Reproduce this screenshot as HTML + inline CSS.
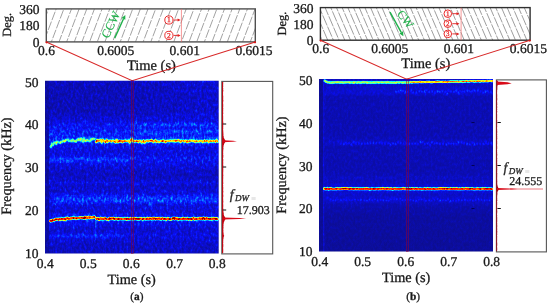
<!DOCTYPE html>
<html><head><meta charset="utf-8"><style>
html,body{margin:0;padding:0;background:#fff;width:550px;height:305px;overflow:hidden}
svg{display:block}
text{font-family:"Liberation Serif","Times New Roman",serif;fill:#1a1a1a;stroke:#1a1a1a;stroke-width:0.3px;text-rendering:geometricPrecision}
</style></head><body>
<svg width="550" height="305" viewBox="0 0 550 305">
<rect width="550" height="305" fill="#fff"/>

<clipPath id="aclip"><rect x="46.3" y="8.9" width="209.0" height="33.0"/></clipPath>
<g clip-path="url(#aclip)" stroke="#8a8a8a" stroke-width="0.8" fill="none" stroke-dasharray="9 1.5">
<path d="M5.45 41.9L17.95 8.9" stroke-dashoffset="5.71"/>
<path d="M13.1 41.9L25.6 8.9" stroke-dashoffset="4.29"/>
<path d="M20.75 41.9L33.25 8.9" stroke-dashoffset="5.78"/>
<path d="M28.4 41.9L40.9 8.9" stroke-dashoffset="2.06"/>
<path d="M36.05 41.9L48.55 8.9" stroke-dashoffset="8.13"/>
<path d="M43.7 41.9L56.2 8.9" stroke-dashoffset="8.24"/>
<path d="M51.35 41.9L63.85 8.9" stroke-dashoffset="6.53"/>
<path d="M59 41.9L71.5 8.9" stroke-dashoffset="1.6"/>
<path d="M66.65 41.9L79.15 8.9" stroke-dashoffset="5.21"/>
<path d="M74.3 41.9L86.8 8.9" stroke-dashoffset="3.28"/>
<path d="M81.95 41.9L94.45 8.9" stroke-dashoffset="2.5"/>
<path d="M89.6 41.9L102.1 8.9" stroke-dashoffset="9.53"/>
<path d="M97.25 41.9L109.75 8.9" stroke-dashoffset="9.97"/>
<path d="M104.9 41.9L117.4 8.9" stroke-dashoffset="0.45"/>
<path d="M112.55 41.9L125.05 8.9" stroke-dashoffset="8.6"/>
<path d="M120.2 41.9L132.7 8.9" stroke-dashoffset="6.03"/>
<path d="M127.85 41.9L140.35 8.9" stroke-dashoffset="3.82"/>
<path d="M135.5 41.9L148 8.9" stroke-dashoffset="2.84"/>
<path d="M143.15 41.9L155.65 8.9" stroke-dashoffset="6.75"/>
<path d="M150.8 41.9L163.3 8.9" stroke-dashoffset="4.57"/>
<path d="M158.45 41.9L170.95 8.9" stroke-dashoffset="6.86"/>
<path d="M166.1 41.9L178.6 8.9" stroke-dashoffset="6.62"/>
<path d="M173.75 41.9L186.25 8.9" stroke-dashoffset="1.33"/>
<path d="M181.4 41.9L193.9 8.9" stroke-dashoffset="7.68"/>
<path d="M189.05 41.9L201.55 8.9" stroke-dashoffset="9.82"/>
<path d="M196.7 41.9L209.2 8.9" stroke-dashoffset="9.69"/>
<path d="M204.35 41.9L216.85 8.9" stroke-dashoffset="6.13"/>
<path d="M212 41.9L224.5 8.9" stroke-dashoffset="0.44"/>
<path d="M219.65 41.9L232.15 8.9" stroke-dashoffset="0.04"/>
<path d="M227.3 41.9L239.8 8.9" stroke-dashoffset="1.34"/>
<path d="M234.95 41.9L247.45 8.9" stroke-dashoffset="9.41"/>
<path d="M242.6 41.9L255.1 8.9" stroke-dashoffset="3.03"/>
<path d="M250.25 41.9L262.75 8.9" stroke-dashoffset="3.66"/>
<path d="M257.9 41.9L270.4 8.9" stroke-dashoffset="8.98"/>
<path d="M265.55 41.9L278.05 8.9" stroke-dashoffset="3.14"/>
</g>
<rect x="46.3" y="8.9" width="209.0" height="33.0" fill="none" stroke="#505050" stroke-width="1.4"/>
<text x="39.6" y="13.9" font-size="13.5" text-anchor="end" >360</text>
<text x="39.6" y="30.4" font-size="13.5" text-anchor="end" >180</text>
<text x="39.6" y="46.9" font-size="13.5" text-anchor="end" >0</text>
<text transform="translate(11.2,24.8) rotate(-90)" font-size="12.5" text-anchor="middle">Deg.</text>
<text x="46.5" y="54.7" font-size="13.5" text-anchor="middle" >0.6</text>
<text x="115.8" y="54.7" font-size="13.5" text-anchor="middle" >0.6005</text>
<text x="184.8" y="54.7" font-size="13.5" text-anchor="middle" >0.601</text>
<text x="254" y="54.7" font-size="13.5" text-anchor="middle" >0.6015</text>
<text x="151.4" y="69.7" font-size="14.5" text-anchor="middle" >Time (s)</text>
<line x1="181.4" y1="8.9" x2="181.4" y2="41.9" stroke="#f06a6a" stroke-width="0.7"/>
<circle cx="168.9" cy="20" r="4.1" fill="#fff" stroke="#e82020" stroke-width="0.95"/>
<text x="168.9" y="22.4" font-size="7.5" text-anchor="middle" style="fill:#e82020;stroke:#e82020;stroke-width:0.25px">1</text>
<line x1="173.5" y1="20" x2="178.1" y2="20" stroke="#e02020" stroke-width="0.9"/>
<path d="M180.6 20L177.6 18.5L177.6 21.5Z" fill="#e02020"/>
<circle cx="168.9" cy="35.4" r="4.1" fill="#fff" stroke="#e82020" stroke-width="0.95"/>
<text x="168.9" y="37.8" font-size="7.5" text-anchor="middle" style="fill:#e82020;stroke:#e82020;stroke-width:0.25px">2</text>
<line x1="173.5" y1="35.4" x2="178.1" y2="35.4" stroke="#e02020" stroke-width="0.9"/>
<path d="M180.6 35.4L177.6 33.9L177.6 36.9Z" fill="#e02020"/>
<line x1="114.7" y1="38.1" x2="123.43" y2="18.99" stroke="#1fb04a" stroke-width="1.4"/>
<path d="M125.3 14.9L125.34 19.87L121.52 18.12Z" fill="#1fb04a"/>
<text transform="translate(114.4,26.3) rotate(-64)" font-size="12.3" text-anchor="middle" style="fill:#1fb04a;stroke:#1fb04a;stroke-width:0.15px">CCW</text>
<path d="M46.3 41.9L132.2 80.8L255.3 41.9" fill="none" stroke="#d82828" stroke-width="1.05"/>
<circle cx="46.6" cy="42.3" r="1.1" fill="#d81818"/>
<circle cx="255" cy="42.3" r="1.1" fill="#d81818"/>
<clipPath id="bclip"><rect x="320.4" y="7.6" width="209.70000000000005" height="32.6"/></clipPath>
<g clip-path="url(#bclip)" stroke="#858585" stroke-width="0.8" fill="none" stroke-dasharray="11 1.2">
<path d="M290.96 7.6L304.96 40.2" stroke-dashoffset="4.75"/>
<path d="M296.65 7.6L310.65 40.2" stroke-dashoffset="6.57"/>
<path d="M302.34 7.6L316.34 40.2" stroke-dashoffset="6.66"/>
<path d="M308.03 7.6L322.03 40.2" stroke-dashoffset="1.43"/>
<path d="M313.72 7.6L327.72 40.2" stroke-dashoffset="0.11"/>
<path d="M319.41 7.6L333.41 40.2" stroke-dashoffset="3.75"/>
<path d="M325.1 7.6L339.1 40.2" stroke-dashoffset="2.74"/>
<path d="M330.79 7.6L344.79 40.2" stroke-dashoffset="8.1"/>
<path d="M336.48 7.6L350.48 40.2" stroke-dashoffset="6.91"/>
<path d="M342.17 7.6L356.17 40.2" stroke-dashoffset="6.01"/>
<path d="M347.86 7.6L361.86 40.2" stroke-dashoffset="5.58"/>
<path d="M353.55 7.6L367.55 40.2" stroke-dashoffset="6.61"/>
<path d="M359.24 7.6L373.24 40.2" stroke-dashoffset="1.45"/>
<path d="M364.93 7.6L378.93 40.2" stroke-dashoffset="4.4"/>
<path d="M370.62 7.6L384.62 40.2" stroke-dashoffset="1.62"/>
<path d="M376.31 7.6L390.31 40.2" stroke-dashoffset="9.06"/>
<path d="M382 7.6L396 40.2" stroke-dashoffset="0.59"/>
<path d="M387.69 7.6L401.69 40.2" stroke-dashoffset="8.19"/>
<path d="M393.38 7.6L407.38 40.2" stroke-dashoffset="0.75"/>
<path d="M399.07 7.6L413.07 40.2" stroke-dashoffset="6.87"/>
<path d="M404.76 7.6L418.76 40.2" stroke-dashoffset="3.37"/>
<path d="M410.45 7.6L424.45 40.2" stroke-dashoffset="4.05"/>
<path d="M416.14 7.6L430.14 40.2" stroke-dashoffset="8.42"/>
<path d="M421.83 7.6L435.83 40.2" stroke-dashoffset="0.19"/>
<path d="M427.52 7.6L441.52 40.2" stroke-dashoffset="0.61"/>
<path d="M433.21 7.6L447.21 40.2" stroke-dashoffset="9.15"/>
<path d="M438.9 7.6L452.9 40.2" stroke-dashoffset="5.09"/>
<path d="M444.59 7.6L458.59 40.2" stroke-dashoffset="0.91"/>
<path d="M450.28 7.6L464.28 40.2" stroke-dashoffset="9.87"/>
<path d="M455.97 7.6L469.97 40.2" stroke-dashoffset="9.47"/>
<path d="M461.66 7.6L475.66 40.2" stroke-dashoffset="1.13"/>
<path d="M467.35 7.6L481.35 40.2" stroke-dashoffset="4.23"/>
<path d="M473.04 7.6L487.04 40.2" stroke-dashoffset="1.35"/>
<path d="M478.73 7.6L492.73 40.2" stroke-dashoffset="3.13"/>
<path d="M484.42 7.6L498.42 40.2" stroke-dashoffset="6.21"/>
<path d="M490.11 7.6L504.11 40.2" stroke-dashoffset="1.64"/>
<path d="M495.8 7.6L509.8 40.2" stroke-dashoffset="6.97"/>
<path d="M501.49 7.6L515.49 40.2" stroke-dashoffset="0.51"/>
<path d="M507.18 7.6L521.18 40.2" stroke-dashoffset="1.71"/>
<path d="M512.87 7.6L526.87 40.2" stroke-dashoffset="8.16"/>
<path d="M518.56 7.6L532.56 40.2" stroke-dashoffset="4.01"/>
<path d="M524.25 7.6L538.25 40.2" stroke-dashoffset="4.19"/>
<path d="M529.94 7.6L543.94 40.2" stroke-dashoffset="5.96"/>
<path d="M535.63 7.6L549.63 40.2" stroke-dashoffset="4.77"/>
<path d="M541.32 7.6L555.32 40.2" stroke-dashoffset="3.85"/>
<path d="M547.01 7.6L561.01 40.2" stroke-dashoffset="0.3"/>
<path d="M552.7 7.6L566.7 40.2" stroke-dashoffset="7.26"/>
</g>
<rect x="320.4" y="7.6" width="209.70000000000005" height="32.6" fill="none" stroke="#303030" stroke-width="1.4"/>
<text x="313.6" y="12.6" font-size="13.5" text-anchor="end" >360</text>
<text x="313.6" y="28.9" font-size="13.5" text-anchor="end" >180</text>
<text x="313.6" y="45.2" font-size="13.5" text-anchor="end" >0</text>
<text transform="translate(285.5,23.6) rotate(-90)" font-size="12.5" text-anchor="middle">Deg.</text>
<text x="320.8" y="53" font-size="13.5" text-anchor="middle" >0.6</text>
<text x="389.8" y="53" font-size="13.5" text-anchor="middle" >0.6005</text>
<text x="458.9" y="53" font-size="13.5" text-anchor="middle" >0.601</text>
<text x="528.4" y="53" font-size="13.5" text-anchor="middle" >0.6015</text>
<text x="425.8" y="67.8" font-size="14.5" text-anchor="middle" >Time (s)</text>
<line x1="461.1" y1="7.6" x2="461.1" y2="40.2" stroke="#f06a6a" stroke-width="0.7"/>
<circle cx="447.8" cy="13.7" r="3.8" fill="#fff" stroke="#e82020" stroke-width="0.95"/>
<text x="447.8" y="16.1" font-size="7" text-anchor="middle" style="fill:#e82020;stroke:#e82020;stroke-width:0.25px">1</text>
<line x1="452.3" y1="13.7" x2="457" y2="13.7" stroke="#e02020" stroke-width="0.9"/>
<path d="M459.5 13.7L456.5 12.2L456.5 15.2Z" fill="#e02020"/>
<circle cx="447.8" cy="23.7" r="3.8" fill="#fff" stroke="#e82020" stroke-width="0.95"/>
<text x="447.8" y="26.1" font-size="7" text-anchor="middle" style="fill:#e82020;stroke:#e82020;stroke-width:0.25px">2</text>
<line x1="452.3" y1="23.7" x2="457" y2="23.7" stroke="#e02020" stroke-width="0.9"/>
<path d="M459.5 23.7L456.5 22.2L456.5 25.2Z" fill="#e02020"/>
<circle cx="447.8" cy="33.9" r="3.8" fill="#fff" stroke="#e82020" stroke-width="0.95"/>
<text x="447.8" y="36.3" font-size="7" text-anchor="middle" style="fill:#e82020;stroke:#e82020;stroke-width:0.25px">3</text>
<line x1="452.3" y1="33.9" x2="457" y2="33.9" stroke="#e02020" stroke-width="0.9"/>
<path d="M459.5 33.9L456.5 32.4L456.5 35.4Z" fill="#e02020"/>
<line x1="390" y1="12.1" x2="401.22" y2="32.36" stroke="#1fb04a" stroke-width="1.4"/>
<path d="M403.4 36.3L399.38 33.38L403.06 31.35Z" fill="#1fb04a"/>
<text transform="translate(402.4,21.6) rotate(52)" font-size="12" text-anchor="middle" style="fill:#1fb04a;stroke:#1fb04a;stroke-width:0.15px">CW</text>
<path d="M320.4 40.2L406.6 79.2L530.1 40.2" fill="none" stroke="#d82828" stroke-width="1.05"/>
<circle cx="320.7" cy="40.6" r="1.1" fill="#d81818"/>
<circle cx="529.8" cy="40.6" r="1.1" fill="#d81818"/>
<linearGradient id="ga" x1="0" y1="0" x2="0" y2="1"><stop offset="0" stop-color="rgb(24,0,0)"/><stop offset="0.01" stop-color="rgb(20,0,0)"/><stop offset="0.05" stop-color="rgb(18,0,0)"/><stop offset="0.17" stop-color="rgb(18,0,0)"/><stop offset="0.22" stop-color="rgb(22,0,0)"/><stop offset="0.26" stop-color="rgb(29,0,0)"/><stop offset="0.31" stop-color="rgb(34,0,0)"/><stop offset="0.34" stop-color="rgb(38,0,0)"/><stop offset="0.36" stop-color="rgb(33,0,0)"/><stop offset="0.39" stop-color="rgb(24,0,0)"/><stop offset="0.42" stop-color="rgb(22,0,0)"/><stop offset="0.45" stop-color="rgb(29,0,0)"/><stop offset="0.48" stop-color="rgb(24,0,0)"/><stop offset="0.52" stop-color="rgb(17,0,0)"/><stop offset="0.56" stop-color="rgb(15,0,0)"/><stop offset="0.59" stop-color="rgb(22,0,0)"/><stop offset="0.61" stop-color="rgb(17,0,0)"/><stop offset="0.65" stop-color="rgb(22,0,0)"/><stop offset="0.69" stop-color="rgb(31,0,0)"/><stop offset="0.72" stop-color="rgb(22,0,0)"/><stop offset="0.76" stop-color="rgb(22,0,0)"/><stop offset="0.79" stop-color="rgb(31,0,0)"/><stop offset="0.83" stop-color="rgb(26,0,0)"/><stop offset="0.86" stop-color="rgb(19,0,0)"/><stop offset="0.9" stop-color="rgb(23,0,0)"/><stop offset="0.93" stop-color="rgb(18,0,0)"/><stop offset="1" stop-color="rgb(15,0,0)"/></linearGradient>
<clipPath id="ca"><rect x="45" y="80.8" width="173.7" height="172.8"/></clipPath>
<filter id="fa" x="45" y="80.8" width="173.7" height="172.8" filterUnits="userSpaceOnUse" color-interpolation-filters="sRGB">
<feTurbulence type="fractalNoise" baseFrequency="0.45 0.3" numOctaves="2" seed="3" result="n"/>
<feColorMatrix in="n" type="matrix" values="1 0 0 0 0  1 0 0 0 0  1 0 0 0 0  0 0 0 0 1" result="n0"/>
<feComponentTransfer in="n0" result="n1"><feFuncR type="gamma" amplitude="1" exponent="2" offset="0"/><feFuncG type="gamma" amplitude="1" exponent="2" offset="0"/></feComponentTransfer>
<feColorMatrix in="n1" type="matrix" values="1 0 0 0 0  0 0.28 0 0 0.19  0 0 0 0 0  0 0 0 0 1" result="n2"/>
<feComposite in="SourceGraphic" in2="n2" operator="arithmetic" k1="1.7" k2="0.55" k3="0.05" k4="-0.01" result="s"/>
<feColorMatrix in="s" type="matrix" values="1 1 0 0 0  1 1 0 0 0  1 1 0 0 0  0 0 0 0 1" result="s2"/>
<feComponentTransfer in="s2">
<feFuncR type="table" tableValues="0.05 0.04 0.03 0.02 0.5 1 1 1 0.5"/>
<feFuncG type="table" tableValues="0.05 0.06 0.5 1 1 1 0.5 0.02 0"/>
<feFuncB type="table" tableValues="0.5 1 1 1 0.5 0 0 0 0"/>
</feComponentTransfer>
<feGaussianBlur stdDeviation="0.5"/>
</filter>
<linearGradient id="dkA" x1="0" y1="0" x2="1" y2="0"><stop offset="0" stop-color="#000" stop-opacity="0.3"/><stop offset="0.6" stop-color="#000" stop-opacity="0.2"/><stop offset="1" stop-color="#000" stop-opacity="0"/></linearGradient><linearGradient id="dkA2" x1="0" y1="0" x2="0" y2="1"><stop offset="0" stop-color="#000" stop-opacity="0"/><stop offset="1" stop-color="#000" stop-opacity="1"/></linearGradient><mask id="mkA"><rect x="45" y="80" width="174" height="45" fill="#fff"/><rect x="45" y="110" width="174" height="15" fill="url(#dkA2)"/></mask>
<g filter="url(#fa)" clip-path="url(#ca)">
<rect x="45" y="80.8" width="173.7" height="172.8" fill="url(#ga)"/>
<rect x="45" y="80.8" width="150" height="44" fill="url(#dkA)" fill-opacity="1" mask="url(#mkA)"/>
<polyline points="130,125.77 132,124.9 134,124.78 136,123.88 138,125.06 140,125.28 142,124.71 144,124.79 146,123.91 148,125.99 150,125.24 152,124.75 154,125.43 156,125.25 158,125.07 160,124.86 162,125.05 164,125.33 166,125.59 168,125.61 170,125.29 172,125.66 174,124.88 176,123.88 178,123.94 180,125.63 182,123.82 184,124.42 186,125 188,125.67 190,123.52 192,124.18 194,124.42 196,124.46 198,125 200,125.57 202,125.44 204,127 206,126.12 208,124.03 210,123.92 212,124.8 214,124.77 216,125.77 218,125.45" fill="none" stroke="rgb(33,0,0)" stroke-width="5" stroke-dasharray="none" style="mix-blend-mode:lighten"/>
<polyline points="130,125.77 132,124.9 134,124.78 136,123.88 138,125.06 140,125.28 142,124.71 144,124.79 146,123.91 148,125.99 150,125.24 152,124.75 154,125.43 156,125.25 158,125.07 160,124.86 162,125.05 164,125.33 166,125.59 168,125.61 170,125.29 172,125.66 174,124.88 176,123.88 178,123.94 180,125.63 182,123.82 184,124.42 186,125 188,125.67 190,123.52 192,124.18 194,124.42 196,124.46 198,125 200,125.57 202,125.44 204,127 206,126.12 208,124.03 210,123.92 212,124.8 214,124.77 216,125.77 218,125.45" fill="none" stroke="rgb(41,0,0)" stroke-width="2.5" stroke-dasharray="none" style="mix-blend-mode:lighten"/>
<polyline points="50,160.58 52,159.99 54,160.32 56,160.28 58,159.85 60,160.42 62,159 64,160.68 66,160.43 68,162.06 70,159.95 72,158.89 74,159.53 76,159.85 78,159.44 80,159.1 82,159.71 84,158.98 86,160.8 88,158.91 90,160.4 92,160.7 94,160.3 96,160.97 98,160.28 100,160.61 102,159.37 104,159.1 106,159.61 108,160.09 110,160.69 112,159.11 114,159.52 116,159.42 118,160.55 120,159.57 122,160.78 124,159.72 126,159.44 128,159.46 130,158.75 132,158.09 134,159.55" fill="none" stroke="rgb(35,0,0)" stroke-width="5" stroke-dasharray="none" style="mix-blend-mode:lighten"/>
<polyline points="50,160.58 52,159.99 54,160.32 56,160.28 58,159.85 60,160.42 62,159 64,160.68 66,160.43 68,162.06 70,159.95 72,158.89 74,159.53 76,159.85 78,159.44 80,159.1 82,159.71 84,158.98 86,160.8 88,158.91 90,160.4 92,160.7 94,160.3 96,160.97 98,160.28 100,160.61 102,159.37 104,159.1 106,159.61 108,160.09 110,160.69 112,159.11 114,159.52 116,159.42 118,160.55 120,159.57 122,160.78 124,159.72 126,159.44 128,159.46 130,158.75 132,158.09 134,159.55" fill="none" stroke="rgb(43,0,0)" stroke-width="2.5" stroke-dasharray="none" style="mix-blend-mode:lighten"/>
<polyline points="55,198.93 57,200.96 59,199.78 61,200.11 63,199.57 65,199.34 67,198.43 69,198.57 71,200.49 73,199.13 75,199.14 77,200.02 79,199.32 81,199.31 83,200.92 85,199.75 87,199.21 89,199.2 91,198.98 93,199.75 95,199.89 97,199.08 99,199.32 101,198.36 103,199.28 105,199.98 107,198.8 109,199.41 111,198.98 113,199.15 115,199.7 117,198.8 119,200.29 121,200.41 123,200.34 125,198.85 127,198.14 129,199.09 131,199.59 133,199.46 135,199.36 137,199.51 139,199.24 141,199.95 143,198.48 145,199.75 147,199.85 149,199.08 151,202.1 153,199.69 155,199.68 157,198.63 159,199.67 161,199.65 163,200.29 165,199.15 167,200.28 169,198.56 171,199.51 173,198.23 175,199.49 177,200.03 179,198.41 181,199.98 183,199.82 185,198.37 187,198.8 189,199.12 191,199.86 193,200.47 195,199.02 197,198.81 199,199.22 201,197.57 203,199.81 205,199.38 207,199.28 209,200.44 211,199.29 213,198.97 215,200.21 217,199.17" fill="none" stroke="rgb(34,0,0)" stroke-width="8" stroke-dasharray="none" style="mix-blend-mode:lighten"/>
<polyline points="55,198.93 57,200.96 59,199.78 61,200.11 63,199.57 65,199.34 67,198.43 69,198.57 71,200.49 73,199.13 75,199.14 77,200.02 79,199.32 81,199.31 83,200.92 85,199.75 87,199.21 89,199.2 91,198.98 93,199.75 95,199.89 97,199.08 99,199.32 101,198.36 103,199.28 105,199.98 107,198.8 109,199.41 111,198.98 113,199.15 115,199.7 117,198.8 119,200.29 121,200.41 123,200.34 125,198.85 127,198.14 129,199.09 131,199.59 133,199.46 135,199.36 137,199.51 139,199.24 141,199.95 143,198.48 145,199.75 147,199.85 149,199.08 151,202.1 153,199.69 155,199.68 157,198.63 159,199.67 161,199.65 163,200.29 165,199.15 167,200.28 169,198.56 171,199.51 173,198.23 175,199.49 177,200.03 179,198.41 181,199.98 183,199.82 185,198.37 187,198.8 189,199.12 191,199.86 193,200.47 195,199.02 197,198.81 199,199.22 201,197.57 203,199.81 205,199.38 207,199.28 209,200.44 211,199.29 213,198.97 215,200.21 217,199.17" fill="none" stroke="rgb(42,0,0)" stroke-width="4" stroke-dasharray="none" style="mix-blend-mode:lighten"/>
<polyline points="50,236.02 52,235.77 54,235.97 56,236.15 58,236.22 60,235.18 62,236.91 64,235.72 66,235.7 68,236.59 70,235.67 72,236.33 74,236.79 76,236.64 78,235.7 80,236.71 82,235.86 84,235.46 86,235.42 88,236.23 90,235.53 92,236.93 94,236.58 96,236.41 98,236.8 100,236.66 102,235.46 104,237.73 106,234.98 108,236.11 110,234.72 112,235.81 114,235.69 116,235.05 118,236.38 120,236.08 122,236 124,235.28" fill="none" stroke="rgb(29,0,0)" stroke-width="4" stroke-dasharray="none" style="mix-blend-mode:lighten"/>
<polyline points="50,236.02 52,235.77 54,235.97 56,236.15 58,236.22 60,235.18 62,236.91 64,235.72 66,235.7 68,236.59 70,235.67 72,236.33 74,236.79 76,236.64 78,235.7 80,236.71 82,235.86 84,235.46 86,235.42 88,236.23 90,235.53 92,236.93 94,236.58 96,236.41 98,236.8 100,236.66 102,235.46 104,237.73 106,234.98 108,236.11 110,234.72 112,235.81 114,235.69 116,235.05 118,236.38 120,236.08 122,236 124,235.28" fill="none" stroke="rgb(36,0,0)" stroke-width="2" stroke-dasharray="none" style="mix-blend-mode:lighten"/>
<polyline points="130,132.98 132,131.85 134,132.51 136,130.96 138,133 140,131.76 142,132.68 144,131.72 146,131.96 148,132.34 150,131.98 152,133.48 154,131.89 156,131.83 158,132.77 160,132.14 162,131.36 164,131.82 166,132.54 168,132.07 170,132.81 172,131.21 174,132.23 176,131.5 178,131.77 180,131.6 182,131.44 184,133.66 186,132.13 188,132.57 190,132.28 192,133.38 194,131.64 196,131.14 198,132.46 200,131.37 202,133.05 204,131.39 206,131.84 208,132.49 210,131.26 212,131.82 214,132.25 216,131.01 218,131.96" fill="none" stroke="rgb(35,0,0)" stroke-width="6" stroke-dasharray="none" style="mix-blend-mode:lighten"/>
<polyline points="130,132.98 132,131.85 134,132.51 136,130.96 138,133 140,131.76 142,132.68 144,131.72 146,131.96 148,132.34 150,131.98 152,133.48 154,131.89 156,131.83 158,132.77 160,132.14 162,131.36 164,131.82 166,132.54 168,132.07 170,132.81 172,131.21 174,132.23 176,131.5 178,131.77 180,131.6 182,131.44 184,133.66 186,132.13 188,132.57 190,132.28 192,133.38 194,131.64 196,131.14 198,132.46 200,131.37 202,133.05 204,131.39 206,131.84 208,132.49 210,131.26 212,131.82 214,132.25 216,131.01 218,131.96" fill="none" stroke="rgb(43,0,0)" stroke-width="3" stroke-dasharray="none" style="mix-blend-mode:lighten"/>
<polyline points="55,132.05 57,132.9 59,134.15 61,133.99 63,132.88 65,132.88 67,132.5 69,133.56 71,133.52 73,132.06 75,132.37 77,132.13 79,133.14 81,133.19 83,133.12 85,133.44 87,133.42 89,133.02 91,133.39 93,132.67 95,133.54 97,133.74 99,131.54 101,134.14 103,132.96 105,133.51 107,133.04 109,134.08 111,132.99 113,133.29 115,132.64 117,133.02 119,133.32 121,132.34 123,132.9 125,132.62 127,133.07 129,133.68" fill="none" stroke="rgb(27,0,0)" stroke-width="5" stroke-dasharray="none" style="mix-blend-mode:lighten"/>
<polyline points="55,132.05 57,132.9 59,134.15 61,133.99 63,132.88 65,132.88 67,132.5 69,133.56 71,133.52 73,132.06 75,132.37 77,132.13 79,133.14 81,133.19 83,133.12 85,133.44 87,133.42 89,133.02 91,133.39 93,132.67 95,133.54 97,133.74 99,131.54 101,134.14 103,132.96 105,133.51 107,133.04 109,134.08 111,132.99 113,133.29 115,132.64 117,133.02 119,133.32 121,132.34 123,132.9 125,132.62 127,133.07 129,133.68" fill="none" stroke="rgb(33,0,0)" stroke-width="2.5" stroke-dasharray="none" style="mix-blend-mode:lighten"/>
<polyline points="55,182.61 57,183.41 59,182.05 61,182.27 63,182.39 65,181.89 67,182.77 69,182.02 71,181.98 73,182.68 75,181.97 77,182.49 79,182.43 81,183.26 83,183.49 85,182.86 87,182.03 89,183.07 91,184.19 93,182.25 95,182.33 97,183.4 99,182.44 101,182.25 103,183.29 105,181.87 107,183.17 109,181.92 111,182.85 113,182.43 115,181.91 117,183.06 119,181.48 121,182.88 123,182.36 125,183.21 127,181.65 129,183.13 131,183.9 133,182.06 135,182.49 137,183.15 139,185.03 141,182.66 143,182.02 145,182.65 147,182.38 149,182.17 151,181.56 153,183.54 155,181.38 157,182.35 159,181.16 161,180.91 163,182.87 165,181.48 167,182.98 169,182.5 171,181.79 173,182.97 175,181.49 177,183 179,183.28 181,181.56 183,182.58 185,183.57 187,182.7 189,181.59 191,183.19 193,182.51 195,182.64 197,181.52 199,182.71 201,182.66 203,181.64 205,182.81 207,182.21 209,183.01 211,183 213,181.84 215,181.5 217,183.37" fill="none" stroke="rgb(20,0,0)" stroke-width="3" stroke-dasharray="none" style="mix-blend-mode:lighten"/>
<polyline points="55,182.61 57,183.41 59,182.05 61,182.27 63,182.39 65,181.89 67,182.77 69,182.02 71,181.98 73,182.68 75,181.97 77,182.49 79,182.43 81,183.26 83,183.49 85,182.86 87,182.03 89,183.07 91,184.19 93,182.25 95,182.33 97,183.4 99,182.44 101,182.25 103,183.29 105,181.87 107,183.17 109,181.92 111,182.85 113,182.43 115,181.91 117,183.06 119,181.48 121,182.88 123,182.36 125,183.21 127,181.65 129,183.13 131,183.9 133,182.06 135,182.49 137,183.15 139,185.03 141,182.66 143,182.02 145,182.65 147,182.38 149,182.17 151,181.56 153,183.54 155,181.38 157,182.35 159,181.16 161,180.91 163,182.87 165,181.48 167,182.98 169,182.5 171,181.79 173,182.97 175,181.49 177,183 179,183.28 181,181.56 183,182.58 185,183.57 187,182.7 189,181.59 191,183.19 193,182.51 195,182.64 197,181.52 199,182.71 201,182.66 203,181.64 205,182.81 207,182.21 209,183.01 211,183 213,181.84 215,181.5 217,183.37" fill="none" stroke="rgb(26,0,0)" stroke-width="1.5" stroke-dasharray="none" style="mix-blend-mode:lighten"/>
<rect x="45" y="80.8" width="3.9" height="172.8" fill="rgb(7,0,0)"/>
<polyline points="50,145.69 51,146.52 52,143.69 53,144.96 54,143.05 55,142.39 56,143.9 57,142.1 58,141.84 59,142.56 60,142.9 61,141.68 62,142.24 63,140.62 64,141.17 65,141.04 66,140.09 67,139.85 68,139.68 69,141.01 70,141.02 71,140.81 72,141.14 73,139.68 74,140.88 75,141.14 76,141.59 77,139.94 78,140.33 79,138.65 80,140.11 81,138.36 82,139.08 83,141.54 84,138.18 85,141.12 86,140.59 87,139.89 88,140.61 89,140.62 90,141.08 91,139.74 92,139.32 93,139.25 94,138.81 95,139.76" fill="none" stroke="rgb(0,20,0)" stroke-opacity="0.6" stroke-width="3.8" stroke-linejoin="round" style="mix-blend-mode:lighten"/>
<polyline points="50,145.69 51,146.52 52,143.69 53,144.96 54,143.05 55,142.39 56,143.9 57,142.1 58,141.84 59,142.56 60,142.9 61,141.68 62,142.24 63,140.62 64,141.17 65,141.04 66,140.09 67,139.85 68,139.68 69,141.01 70,141.02 71,140.81 72,141.14 73,139.68 74,140.88 75,141.14 76,141.59 77,139.94 78,140.33 79,138.65 80,140.11 81,138.36 82,139.08 83,141.54 84,138.18 85,141.12 86,140.59 87,139.89 88,140.61 89,140.62 90,141.08 91,139.74 92,139.32 93,139.25 94,138.81 95,139.76" fill="none" stroke="rgb(0,54,0)" stroke-opacity="1" stroke-width="2.5" stroke-linejoin="round" style="mix-blend-mode:lighten"/>
<polyline points="50,145.69 51,146.52 52,143.69 53,144.96 54,143.05 55,142.39 56,143.9 57,142.1 58,141.84 59,142.56 60,142.9 61,141.68 62,142.24 63,140.62 64,141.17 65,141.04 66,140.09 67,139.85 68,139.68 69,141.01 70,141.02 71,140.81 72,141.14 73,139.68 74,140.88 75,141.14 76,141.59 77,139.94 78,140.33 79,138.65 80,140.11 81,138.36 82,139.08 83,141.54 84,138.18 85,141.12 86,140.59 87,139.89 88,140.61 89,140.62 90,141.08 91,139.74 92,139.32 93,139.25 94,138.81 95,139.76" fill="none" stroke="rgb(0,94,0)" stroke-opacity="1" stroke-width="1.4" stroke-linejoin="round" style="mix-blend-mode:lighten"/>
<polyline points="95.5,140.77 96.5,141.79 97.5,140.17 98.5,140.6 99.5,140.68 100.5,140.05 101.5,142.25 102.5,139.88 103.5,141.04 104.5,140.91 105.5,142.11 106.5,140.11 107.5,141.79 108.5,140.8 109.5,141.11 110.5,140.83 111.5,141.55 112.5,140.57 113.5,141.16 114.5,141.39 115.5,142.21 116.5,139.88 117.5,142.04 118.5,141.72 119.5,140.93 120.5,141.37 121.5,140.94 122.5,142.11 123.5,141.32 124.5,141.08 125.5,141.07 126.5,141.09 127.5,141.1 128.5,140.72 129.5,142.33 130.5,140.15 131.5,139.22 132.5,141.13 133.5,141.12 134.5,141.4 135.5,141.09 136.5,141.12 137.5,141.38 138.5,141.73 139.5,140.95 140.5,140.99 141.5,142.27 142.5,141.49 143.5,140.66 144.5,142.48 145.5,141.63 146.5,140.88 147.5,140.55 148.5,141.36 149.5,140.74 150.5,140.62 151.5,140.49 152.5,140.92 153.5,141.81 154.5,140.96 155.5,140.4 156.5,141.57 157.5,141.24 158.5,141.66 159.5,141.86 160.5,141.11 161.5,141.12 162.5,141.17 163.5,140.58 164.5,141.57 165.5,141.95 166.5,141.3 167.5,141.07 168.5,141.06 169.5,140.77 170.5,140.76 171.5,140.98 172.5,140.74 173.5,140.96 174.5,140.33 175.5,141.39 176.5,141.23 177.5,140.57 178.5,139.94 179.5,141.2 180.5,141.81 181.5,140.8 182.5,140.93 183.5,140.89 184.5,141.56 185.5,140.7 186.5,141.74 187.5,141.03 188.5,141.71 189.5,141.22 190.5,141.07 191.5,140.39 192.5,140.82 193.5,141.06 194.5,141.56 195.5,141.33 196.5,140.82 197.5,141.43 198.5,141.74 199.5,141.12 200.5,140.96 201.5,140.98 202.5,141.65 203.5,141.5 204.5,140.69 205.5,141.41 206.5,140.94 207.5,140.79 208.5,141.88 209.5,141.65 210.5,140.8 211.5,141.24 212.5,141.48 213.5,140.85 214.5,141.13 215.5,141.57 216.5,140.22 217.5,141.38 218.5,141.61" fill="none" stroke="rgb(0,26,0)" stroke-opacity="0.6" stroke-width="4.4" stroke-linejoin="round" style="mix-blend-mode:lighten"/>
<polyline points="95.5,140.77 96.5,141.79 97.5,140.17 98.5,140.6 99.5,140.68 100.5,140.05 101.5,142.25 102.5,139.88 103.5,141.04 104.5,140.91 105.5,142.11 106.5,140.11 107.5,141.79 108.5,140.8 109.5,141.11 110.5,140.83 111.5,141.55 112.5,140.57 113.5,141.16 114.5,141.39 115.5,142.21 116.5,139.88 117.5,142.04 118.5,141.72 119.5,140.93 120.5,141.37 121.5,140.94 122.5,142.11 123.5,141.32 124.5,141.08 125.5,141.07 126.5,141.09 127.5,141.1 128.5,140.72 129.5,142.33 130.5,140.15 131.5,139.22 132.5,141.13 133.5,141.12 134.5,141.4 135.5,141.09 136.5,141.12 137.5,141.38 138.5,141.73 139.5,140.95 140.5,140.99 141.5,142.27 142.5,141.49 143.5,140.66 144.5,142.48 145.5,141.63 146.5,140.88 147.5,140.55 148.5,141.36 149.5,140.74 150.5,140.62 151.5,140.49 152.5,140.92 153.5,141.81 154.5,140.96 155.5,140.4 156.5,141.57 157.5,141.24 158.5,141.66 159.5,141.86 160.5,141.11 161.5,141.12 162.5,141.17 163.5,140.58 164.5,141.57 165.5,141.95 166.5,141.3 167.5,141.07 168.5,141.06 169.5,140.77 170.5,140.76 171.5,140.98 172.5,140.74 173.5,140.96 174.5,140.33 175.5,141.39 176.5,141.23 177.5,140.57 178.5,139.94 179.5,141.2 180.5,141.81 181.5,140.8 182.5,140.93 183.5,140.89 184.5,141.56 185.5,140.7 186.5,141.74 187.5,141.03 188.5,141.71 189.5,141.22 190.5,141.07 191.5,140.39 192.5,140.82 193.5,141.06 194.5,141.56 195.5,141.33 196.5,140.82 197.5,141.43 198.5,141.74 199.5,141.12 200.5,140.96 201.5,140.98 202.5,141.65 203.5,141.5 204.5,140.69 205.5,141.41 206.5,140.94 207.5,140.79 208.5,141.88 209.5,141.65 210.5,140.8 211.5,141.24 212.5,141.48 213.5,140.85 214.5,141.13 215.5,141.57 216.5,140.22 217.5,141.38 218.5,141.61" fill="none" stroke="rgb(0,64,0)" stroke-opacity="1" stroke-width="3.0" stroke-linejoin="round" style="mix-blend-mode:lighten"/>
<polyline points="95.5,140.77 96.5,141.79 97.5,140.17 98.5,140.6 99.5,140.68 100.5,140.05 101.5,142.25 102.5,139.88 103.5,141.04 104.5,140.91 105.5,142.11 106.5,140.11 107.5,141.79 108.5,140.8 109.5,141.11 110.5,140.83 111.5,141.55 112.5,140.57 113.5,141.16 114.5,141.39 115.5,142.21 116.5,139.88 117.5,142.04 118.5,141.72 119.5,140.93 120.5,141.37 121.5,140.94 122.5,142.11 123.5,141.32 124.5,141.08 125.5,141.07 126.5,141.09 127.5,141.1 128.5,140.72 129.5,142.33 130.5,140.15 131.5,139.22 132.5,141.13 133.5,141.12 134.5,141.4 135.5,141.09 136.5,141.12 137.5,141.38 138.5,141.73 139.5,140.95 140.5,140.99 141.5,142.27 142.5,141.49 143.5,140.66 144.5,142.48 145.5,141.63 146.5,140.88 147.5,140.55 148.5,141.36 149.5,140.74 150.5,140.62 151.5,140.49 152.5,140.92 153.5,141.81 154.5,140.96 155.5,140.4 156.5,141.57 157.5,141.24 158.5,141.66 159.5,141.86 160.5,141.11 161.5,141.12 162.5,141.17 163.5,140.58 164.5,141.57 165.5,141.95 166.5,141.3 167.5,141.07 168.5,141.06 169.5,140.77 170.5,140.76 171.5,140.98 172.5,140.74 173.5,140.96 174.5,140.33 175.5,141.39 176.5,141.23 177.5,140.57 178.5,139.94 179.5,141.2 180.5,141.81 181.5,140.8 182.5,140.93 183.5,140.89 184.5,141.56 185.5,140.7 186.5,141.74 187.5,141.03 188.5,141.71 189.5,141.22 190.5,141.07 191.5,140.39 192.5,140.82 193.5,141.06 194.5,141.56 195.5,141.33 196.5,140.82 197.5,141.43 198.5,141.74 199.5,141.12 200.5,140.96 201.5,140.98 202.5,141.65 203.5,141.5 204.5,140.69 205.5,141.41 206.5,140.94 207.5,140.79 208.5,141.88 209.5,141.65 210.5,140.8 211.5,141.24 212.5,141.48 213.5,140.85 214.5,141.13 215.5,141.57 216.5,140.22 217.5,141.38 218.5,141.61" fill="none" stroke="rgb(0,156,0)" stroke-opacity="1" stroke-width="1.8" stroke-linejoin="round" style="mix-blend-mode:lighten"/>
<polyline points="49.5,221.55 50.5,220.8 51.5,220.9 52.5,220.14 53.5,220.17 54.5,219.78 55.5,219.44 56.5,219.08 57.5,219.08 58.5,219.46 59.5,218.87 60.5,219.23 61.5,219.18 62.5,218.89 63.5,219.63 64.5,218.88 65.5,219.44 66.5,218.14 67.5,218.01 68.5,218.92 69.5,218.76 70.5,218.42 71.5,218.44 72.5,217.83 73.5,218.15 74.5,217.98 75.5,218.16 76.5,218.44 77.5,218.13 78.5,218.17 79.5,217.79 80.5,217.81 81.5,217.92 82.5,217.74 83.5,218.15 84.5,217.45 85.5,218.22 86.5,217.31 87.5,217.86 88.5,217.25 89.5,217.92 90.5,217.44 91.5,217.52 92.5,217.62 93.5,217.21 94.5,217.09 95.5,216.79" fill="none" stroke="rgb(0,20,0)" stroke-opacity="0.6" stroke-width="4.8" stroke-linejoin="round" style="mix-blend-mode:lighten"/>
<polyline points="49.5,221.55 50.5,220.8 51.5,220.9 52.5,220.14 53.5,220.17 54.5,219.78 55.5,219.44 56.5,219.08 57.5,219.08 58.5,219.46 59.5,218.87 60.5,219.23 61.5,219.18 62.5,218.89 63.5,219.63 64.5,218.88 65.5,219.44 66.5,218.14 67.5,218.01 68.5,218.92 69.5,218.76 70.5,218.42 71.5,218.44 72.5,217.83 73.5,218.15 74.5,217.98 75.5,218.16 76.5,218.44 77.5,218.13 78.5,218.17 79.5,217.79 80.5,217.81 81.5,217.92 82.5,217.74 83.5,218.15 84.5,217.45 85.5,218.22 86.5,217.31 87.5,217.86 88.5,217.25 89.5,217.92 90.5,217.44 91.5,217.52 92.5,217.62 93.5,217.21 94.5,217.09 95.5,216.79" fill="none" stroke="rgb(0,66,0)" stroke-opacity="1" stroke-width="3.3" stroke-linejoin="round" style="mix-blend-mode:lighten"/>
<polyline points="49.5,221.55 50.5,220.8 51.5,220.9 52.5,220.14 53.5,220.17 54.5,219.78 55.5,219.44 56.5,219.08 57.5,219.08 58.5,219.46 59.5,218.87 60.5,219.23 61.5,219.18 62.5,218.89 63.5,219.63 64.5,218.88 65.5,219.44 66.5,218.14 67.5,218.01 68.5,218.92 69.5,218.76 70.5,218.42 71.5,218.44 72.5,217.83 73.5,218.15 74.5,217.98 75.5,218.16 76.5,218.44 77.5,218.13 78.5,218.17 79.5,217.79 80.5,217.81 81.5,217.92 82.5,217.74 83.5,218.15 84.5,217.45 85.5,218.22 86.5,217.31 87.5,217.86 88.5,217.25 89.5,217.92 90.5,217.44 91.5,217.52 92.5,217.62 93.5,217.21 94.5,217.09 95.5,216.79" fill="none" stroke="rgb(0,128,0)" stroke-opacity="1" stroke-width="2.4" stroke-linejoin="round" style="mix-blend-mode:lighten"/>
<polyline points="49.5,221.55 50.5,220.8 51.5,220.9 52.5,220.14 53.5,220.17 54.5,219.78 55.5,219.44 56.5,219.08 57.5,219.08 58.5,219.46 59.5,218.87 60.5,219.23 61.5,219.18 62.5,218.89 63.5,219.63 64.5,218.88 65.5,219.44 66.5,218.14 67.5,218.01 68.5,218.92 69.5,218.76 70.5,218.42 71.5,218.44 72.5,217.83 73.5,218.15 74.5,217.98 75.5,218.16 76.5,218.44 77.5,218.13 78.5,218.17 79.5,217.79 80.5,217.81 81.5,217.92 82.5,217.74 83.5,218.15 84.5,217.45 85.5,218.22 86.5,217.31 87.5,217.86 88.5,217.25 89.5,217.92 90.5,217.44 91.5,217.52 92.5,217.62 93.5,217.21 94.5,217.09 95.5,216.79" fill="none" stroke="rgb(0,196,0)" stroke-opacity="1" stroke-width="1.9" stroke-linejoin="round" style="mix-blend-mode:lighten"/>
<polyline points="95.5,219.17 96.5,218.59 97.5,218.62 98.5,218.79 99.5,219.4 100.5,218.28 101.5,218.87 102.5,218.68 103.5,218.96 104.5,218.26 105.5,218.68 106.5,219.05 107.5,219.27 108.5,219.28 109.5,218.54 110.5,218.82 111.5,218.77 112.5,218.39 113.5,218.37 114.5,219.03 115.5,218.87 116.5,218.76 117.5,219.16 118.5,218.5 119.5,218.96 120.5,218.8 121.5,218.78 122.5,218.95 123.5,218.85 124.5,218.88 125.5,218.88 126.5,219.38 127.5,218.71 128.5,219.1 129.5,218.98 130.5,218.7 131.5,219.04 132.5,218.54 133.5,219.15 134.5,218.56 135.5,218.65 136.5,218.9 137.5,219.05 138.5,219.07 139.5,219.07 140.5,218.74 141.5,218.51 142.5,218.96 143.5,218.89 144.5,218.51 145.5,219.09 146.5,218.86 147.5,218.51 148.5,218.93 149.5,218.4 150.5,218.54 151.5,218.92 152.5,218.33 153.5,218.81 154.5,218.39 155.5,219.02 156.5,218.58 157.5,218.85 158.5,218.35 159.5,218.7 160.5,219.08 161.5,218.94 162.5,218.25 163.5,219.08 164.5,219.07 165.5,218.69 166.5,219.23 167.5,218.48 168.5,218.77 169.5,219.13 170.5,219.19 171.5,219.18 172.5,218.47 173.5,218.27 174.5,218.92 175.5,218.37 176.5,218.76 177.5,218.42 178.5,219.12 179.5,219.04 180.5,218.97 181.5,218.81 182.5,218.81 183.5,218.71 184.5,218.92 185.5,218.87 186.5,218.94 187.5,218.67 188.5,219.37 189.5,218.88 190.5,219.22 191.5,219.2 192.5,218.54 193.5,218.29 194.5,219.18 195.5,218.68 196.5,218.82 197.5,218.72 198.5,218.84 199.5,218.44 200.5,218.77 201.5,218.66 202.5,218.8 203.5,218.1 204.5,219.05 205.5,218.9 206.5,218.28 207.5,218.58 208.5,218.81 209.5,218.99 210.5,218.8 211.5,219.22 212.5,218.81 213.5,218.5 214.5,218.6 215.5,219.02 216.5,218.62 217.5,219.05 218.5,219.11" fill="none" stroke="rgb(0,20,0)" stroke-opacity="0.6" stroke-width="4.8" stroke-linejoin="round" style="mix-blend-mode:lighten"/>
<polyline points="95.5,219.17 96.5,218.59 97.5,218.62 98.5,218.79 99.5,219.4 100.5,218.28 101.5,218.87 102.5,218.68 103.5,218.96 104.5,218.26 105.5,218.68 106.5,219.05 107.5,219.27 108.5,219.28 109.5,218.54 110.5,218.82 111.5,218.77 112.5,218.39 113.5,218.37 114.5,219.03 115.5,218.87 116.5,218.76 117.5,219.16 118.5,218.5 119.5,218.96 120.5,218.8 121.5,218.78 122.5,218.95 123.5,218.85 124.5,218.88 125.5,218.88 126.5,219.38 127.5,218.71 128.5,219.1 129.5,218.98 130.5,218.7 131.5,219.04 132.5,218.54 133.5,219.15 134.5,218.56 135.5,218.65 136.5,218.9 137.5,219.05 138.5,219.07 139.5,219.07 140.5,218.74 141.5,218.51 142.5,218.96 143.5,218.89 144.5,218.51 145.5,219.09 146.5,218.86 147.5,218.51 148.5,218.93 149.5,218.4 150.5,218.54 151.5,218.92 152.5,218.33 153.5,218.81 154.5,218.39 155.5,219.02 156.5,218.58 157.5,218.85 158.5,218.35 159.5,218.7 160.5,219.08 161.5,218.94 162.5,218.25 163.5,219.08 164.5,219.07 165.5,218.69 166.5,219.23 167.5,218.48 168.5,218.77 169.5,219.13 170.5,219.19 171.5,219.18 172.5,218.47 173.5,218.27 174.5,218.92 175.5,218.37 176.5,218.76 177.5,218.42 178.5,219.12 179.5,219.04 180.5,218.97 181.5,218.81 182.5,218.81 183.5,218.71 184.5,218.92 185.5,218.87 186.5,218.94 187.5,218.67 188.5,219.37 189.5,218.88 190.5,219.22 191.5,219.2 192.5,218.54 193.5,218.29 194.5,219.18 195.5,218.68 196.5,218.82 197.5,218.72 198.5,218.84 199.5,218.44 200.5,218.77 201.5,218.66 202.5,218.8 203.5,218.1 204.5,219.05 205.5,218.9 206.5,218.28 207.5,218.58 208.5,218.81 209.5,218.99 210.5,218.8 211.5,219.22 212.5,218.81 213.5,218.5 214.5,218.6 215.5,219.02 216.5,218.62 217.5,219.05 218.5,219.11" fill="none" stroke="rgb(0,66,0)" stroke-opacity="1" stroke-width="3.3" stroke-linejoin="round" style="mix-blend-mode:lighten"/>
<polyline points="95.5,219.17 96.5,218.59 97.5,218.62 98.5,218.79 99.5,219.4 100.5,218.28 101.5,218.87 102.5,218.68 103.5,218.96 104.5,218.26 105.5,218.68 106.5,219.05 107.5,219.27 108.5,219.28 109.5,218.54 110.5,218.82 111.5,218.77 112.5,218.39 113.5,218.37 114.5,219.03 115.5,218.87 116.5,218.76 117.5,219.16 118.5,218.5 119.5,218.96 120.5,218.8 121.5,218.78 122.5,218.95 123.5,218.85 124.5,218.88 125.5,218.88 126.5,219.38 127.5,218.71 128.5,219.1 129.5,218.98 130.5,218.7 131.5,219.04 132.5,218.54 133.5,219.15 134.5,218.56 135.5,218.65 136.5,218.9 137.5,219.05 138.5,219.07 139.5,219.07 140.5,218.74 141.5,218.51 142.5,218.96 143.5,218.89 144.5,218.51 145.5,219.09 146.5,218.86 147.5,218.51 148.5,218.93 149.5,218.4 150.5,218.54 151.5,218.92 152.5,218.33 153.5,218.81 154.5,218.39 155.5,219.02 156.5,218.58 157.5,218.85 158.5,218.35 159.5,218.7 160.5,219.08 161.5,218.94 162.5,218.25 163.5,219.08 164.5,219.07 165.5,218.69 166.5,219.23 167.5,218.48 168.5,218.77 169.5,219.13 170.5,219.19 171.5,219.18 172.5,218.47 173.5,218.27 174.5,218.92 175.5,218.37 176.5,218.76 177.5,218.42 178.5,219.12 179.5,219.04 180.5,218.97 181.5,218.81 182.5,218.81 183.5,218.71 184.5,218.92 185.5,218.87 186.5,218.94 187.5,218.67 188.5,219.37 189.5,218.88 190.5,219.22 191.5,219.2 192.5,218.54 193.5,218.29 194.5,219.18 195.5,218.68 196.5,218.82 197.5,218.72 198.5,218.84 199.5,218.44 200.5,218.77 201.5,218.66 202.5,218.8 203.5,218.1 204.5,219.05 205.5,218.9 206.5,218.28 207.5,218.58 208.5,218.81 209.5,218.99 210.5,218.8 211.5,219.22 212.5,218.81 213.5,218.5 214.5,218.6 215.5,219.02 216.5,218.62 217.5,219.05 218.5,219.11" fill="none" stroke="rgb(0,128,0)" stroke-opacity="1" stroke-width="2.4" stroke-linejoin="round" style="mix-blend-mode:lighten"/>
<polyline points="95.5,219.17 96.5,218.59 97.5,218.62 98.5,218.79 99.5,219.4 100.5,218.28 101.5,218.87 102.5,218.68 103.5,218.96 104.5,218.26 105.5,218.68 106.5,219.05 107.5,219.27 108.5,219.28 109.5,218.54 110.5,218.82 111.5,218.77 112.5,218.39 113.5,218.37 114.5,219.03 115.5,218.87 116.5,218.76 117.5,219.16 118.5,218.5 119.5,218.96 120.5,218.8 121.5,218.78 122.5,218.95 123.5,218.85 124.5,218.88 125.5,218.88 126.5,219.38 127.5,218.71 128.5,219.1 129.5,218.98 130.5,218.7 131.5,219.04 132.5,218.54 133.5,219.15 134.5,218.56 135.5,218.65 136.5,218.9 137.5,219.05 138.5,219.07 139.5,219.07 140.5,218.74 141.5,218.51 142.5,218.96 143.5,218.89 144.5,218.51 145.5,219.09 146.5,218.86 147.5,218.51 148.5,218.93 149.5,218.4 150.5,218.54 151.5,218.92 152.5,218.33 153.5,218.81 154.5,218.39 155.5,219.02 156.5,218.58 157.5,218.85 158.5,218.35 159.5,218.7 160.5,219.08 161.5,218.94 162.5,218.25 163.5,219.08 164.5,219.07 165.5,218.69 166.5,219.23 167.5,218.48 168.5,218.77 169.5,219.13 170.5,219.19 171.5,219.18 172.5,218.47 173.5,218.27 174.5,218.92 175.5,218.37 176.5,218.76 177.5,218.42 178.5,219.12 179.5,219.04 180.5,218.97 181.5,218.81 182.5,218.81 183.5,218.71 184.5,218.92 185.5,218.87 186.5,218.94 187.5,218.67 188.5,219.37 189.5,218.88 190.5,219.22 191.5,219.2 192.5,218.54 193.5,218.29 194.5,219.18 195.5,218.68 196.5,218.82 197.5,218.72 198.5,218.84 199.5,218.44 200.5,218.77 201.5,218.66 202.5,218.8 203.5,218.1 204.5,219.05 205.5,218.9 206.5,218.28 207.5,218.58 208.5,218.81 209.5,218.99 210.5,218.8 211.5,219.22 212.5,218.81 213.5,218.5 214.5,218.6 215.5,219.02 216.5,218.62 217.5,219.05 218.5,219.11" fill="none" stroke="rgb(0,196,0)" stroke-opacity="1" stroke-width="1.9" stroke-linejoin="round" style="mix-blend-mode:lighten"/>
<line x1="95.7" y1="219" x2="95.7" y2="240" stroke="rgb(0,30,0)" stroke-width="0.9" style="mix-blend-mode:lighten"/>
</g>
<rect x="131.3" y="80.8" width="2" height="172.8" fill="rgba(120,0,110,0.1)" stroke="#900030" stroke-width="0.5"/>
<rect x="221.8" y="81.4" width="50.9" height="172.5" fill="#fff" stroke="#555" stroke-width="1.1"/>
<path d="M222 82L223.16 82L223.2 82.5L223.33 83L223.17 83.5L223.18 84L223.21 84.5L223.07 85L223.18 85.5L223.23 86L223.28 86.5L223.04 87L223.11 87.5L223.04 88L223.29 88.5L223.25 89L223.02 89.5L223.35 90L223.34 90.5L223.23 91L223.22 91.5L223.06 92L223.01 92.5L223.19 93L223.03 93.5L223.07 94L223.09 94.5L223.02 95L223.17 95.5L223.16 96L223.3 96.5L223.19 97L223.23 97.5L223.18 98L223.24 98.5L223.17 99L223.11 99.5L223.36 100L223.36 100.5L223.3 101L223.26 101.5L223.12 102L223.09 102.5L223.11 103L223.03 103.5L223.28 104L223.15 104.5L223.31 105L223.15 105.5L223.35 106L223.31 106.5L223.01 107L223.08 107.5L223.33 108L223.18 108.5L223.36 109L223.15 109.5L223.04 110L223.23 110.5L223.29 111L223.11 111.5L223.05 112L223.13 112.5L223.35 113L223.28 113.5L223.06 114L223.1 114.5L223.05 115L223.04 115.5L223.3 116L223.08 116.5L223.22 117L223.18 117.5L223.09 118L223.28 118.5L223.07 119L223.25 119.5L223.07 120L223.18 120.5L223.1 121L223.13 121.5L223.37 122L223.32 122.5L223.14 123L223.35 123.5L223.11 124L223.18 124.5L223.34 125L223.27 125.5L223.09 126L223.4 126.5L223.13 127L223.15 127.5L223.34 128L223.19 128.5L223.18 129L223.11 129.5L223.12 130L223.3 130.5L223.19 131L223.33 131.5L223.26 132L223.3 132.5L223.5 133L223.35 133.5L223.41 134L223.54 134.5L223.33 135L223.37 135.5L223.68 136L223.72 136.5L223.61 137L223.7 137.5L224.03 138L224.29 138.5L224.27 139L224.84 139.5L225.16 140L225.39 140.5L225.53 141L225.4 141.5L225.14 142L225.12 142.5L224.52 143L224.4 143.5L224.01 144L224.03 144.5L223.81 145L223.6 145.5L223.48 146L223.61 146.5L223.33 147L223.34 147.5L223.43 148L223.5 148.5L223.39 149L223.26 149.5L223.47 150L223.2 150.5L223.12 151L223.2 151.5L223.25 152L223.11 152.5L223.15 153L223.21 153.5L223.27 154L223.11 154.5L223.19 155L223.37 155.5L223.4 156L223.28 156.5L223.29 157L223.25 157.5L223.09 158L223.05 158.5L223.05 159L223.36 159.5L223.28 160L223.37 160.5L223.04 161L223.26 161.5L223.2 162L223.29 162.5L223.14 163L223.38 163.5L223.05 164L223.22 164.5L223.28 165L223.34 165.5L223.28 166L223.27 166.5L223.3 167L223.34 167.5L223.15 168L223.26 168.5L223.34 169L223.33 169.5L223.17 170L223.3 170.5L223.32 171L223.22 171.5L223.24 172L223.15 172.5L223.22 173L223.23 173.5L223.05 174L223.24 174.5L223.37 175L223.33 175.5L223.27 176L223.15 176.5L223.27 177L223.22 177.5L223.17 178L223.31 178.5L223.05 179L223.28 179.5L223.03 180L223.23 180.5L223.19 181L223.1 181.5L223.26 182L223.19 182.5L223.23 183L223.34 183.5L223.11 184L223.02 184.5L223.12 185L223.26 185.5L223.09 186L223.08 186.5L223.34 187L223.25 187.5L223.18 188L223.33 188.5L223.14 189L223.26 189.5L223.09 190L223.17 190.5L223.31 191L223.34 191.5L223.33 192L223.16 192.5L223.23 193L223.14 193.5L223.08 194L223.2 194.5L223.32 195L223.33 195.5L223.28 196L223.37 196.5L223.13 197L223.1 197.5L223.2 198L223.14 198.5L223.12 199L223.19 199.5L223.26 200L223.22 200.5L223.16 201L223.35 201.5L223.4 202L223.22 202.5L223.09 203L223.08 203.5L223.37 204L223.09 204.5L223.33 205L223.28 205.5L223.2 206L223.37 206.5L223.11 207L223.16 207.5L223.28 208L223.14 208.5L223.44 209L223.25 209.5L223.23 210L223.22 210.5L223.45 211L223.41 211.5L223.51 212L223.57 212.5L223.67 213L223.79 213.5L223.78 214L223.71 214.5L223.94 215L224.01 215.5L224.16 216L224.59 216.5L224.98 217L225.11 217.5L225.4 218L225.53 218.5L225.55 219L225.24 219.5L224.95 220L224.69 220.5L224.3 221L224.22 221.5L224.1 222L223.68 222.5L223.87 223L223.72 223.5L223.44 224L223.5 224.5L223.52 225L223.59 225.5L223.37 226L223.42 226.5L223.51 227L223.46 227.5L223.5 228L223.33 228.5L223.38 229L223.22 229.5L223.4 230L223.44 230.5L223.38 231L223.41 231.5L223.25 232L223.51 232.5L223.57 233L223.62 233.5L223.53 234L223.73 234.5L223.72 235L224.09 235.5L224.15 236L223.89 236.5L223.62 237L223.59 237.5L223.52 238L223.52 238.5L223.36 239L223.17 239.5L223.41 240L223.13 240.5L223.37 241L223.14 241.5L223.19 242L223.34 242.5L223.11 243L223.11 243.5L223.23 244L223.3 244.5L223.34 245L223.28 245.5L223.37 246L223.21 246.5L223.36 247L223.06 247.5L223.11 248L223.21 248.5L223.13 249L223.28 249.5L223.25 250L223.21 250.5L223.32 251L223.22 251.5L223.13 252L223.15 252.5L223.31 253L222 253.3Z" fill="#c00814"/>
<path d="M222.7 140.2L232.92 140.65L236.9 141.2L232.92 141.75L222.7 142.2Z" fill="#d80a18"/>
<path d="M222.7 217.4L239.55 217.9L246.1 218.5L239.55 219.1L222.7 219.6Z" fill="#d80a18"/>
<line x1="222.8" y1="124" x2="226.20000000000002" y2="124" stroke="#111" stroke-width="1"/>
<line x1="222.8" y1="167" x2="226.20000000000002" y2="167" stroke="#111" stroke-width="1"/>
<line x1="222.8" y1="210" x2="226.20000000000002" y2="210" stroke="#111" stroke-width="1"/>
<text x="38.5" y="86.6" font-size="13.5" text-anchor="end" >50</text>
<text x="38.5" y="129.4" font-size="13.5" text-anchor="end" >40</text>
<text x="38.5" y="172.3" font-size="13.5" text-anchor="end" >30</text>
<text x="38.5" y="214.9" font-size="13.5" text-anchor="end" >20</text>
<text x="38.5" y="257.6" font-size="13.5" text-anchor="end" >10</text>
<text x="45.3" y="267.5" font-size="13.5" text-anchor="middle" >0.4</text>
<text x="88.3" y="267.5" font-size="13.5" text-anchor="middle" >0.5</text>
<text x="131.3" y="267.5" font-size="13.5" text-anchor="middle" >0.6</text>
<text x="174.6" y="267.5" font-size="13.5" text-anchor="middle" >0.7</text>
<text x="217.3" y="267.5" font-size="13.5" text-anchor="middle" >0.8</text>
<text x="131.7" y="283.6" font-size="14.3" text-anchor="middle" >Time (s)</text>
<text transform="translate(11.2,166) rotate(-90)" font-size="14.3" text-anchor="middle">Frequency (kHz)</text>
<text x="136.9" y="300" font-size="11.3" text-anchor="middle">(<tspan font-weight="bold">a</tspan>)</text>
<text x="229.8" y="198.8" font-size="14" font-style="italic" style="fill:#2a2a2a;stroke:#2a2a2a">f<tspan font-size="9" dy="2.2" dx="1.2">DW</tspan><tspan font-style="normal" font-size="9" dx="2" style="fill:#a8a8a8;stroke:none">=</tspan></text>
<text x="269.8" y="214" font-size="12" text-anchor="end" >17.903</text>
<linearGradient id="gb" x1="0" y1="0" x2="0" y2="1"><stop offset="0" stop-color="rgb(18,0,0)"/><stop offset="0.02" stop-color="rgb(23,0,0)"/><stop offset="0.04" stop-color="rgb(19,0,0)"/><stop offset="0.08" stop-color="rgb(23,0,0)"/><stop offset="0.1" stop-color="rgb(15,0,0)"/><stop offset="0.24" stop-color="rgb(14,0,0)"/><stop offset="0.34" stop-color="rgb(15,0,0)"/><stop offset="0.37" stop-color="rgb(20,0,0)"/><stop offset="0.39" stop-color="rgb(15,0,0)"/><stop offset="0.53" stop-color="rgb(14,0,0)"/><stop offset="0.57" stop-color="rgb(17,0,0)"/><stop offset="0.6" stop-color="rgb(18,0,0)"/><stop offset="0.64" stop-color="rgb(26,0,0)"/><stop offset="0.67" stop-color="rgb(19,0,0)"/><stop offset="0.7" stop-color="rgb(22,0,0)"/><stop offset="0.73" stop-color="rgb(14,0,0)"/><stop offset="0.79" stop-color="rgb(10,0,0)"/><stop offset="1" stop-color="rgb(8,0,0)"/></linearGradient>
<clipPath id="cb"><rect x="319" y="79" width="174" height="172.6"/></clipPath>
<filter id="fb" x="319" y="79" width="174" height="172.6" filterUnits="userSpaceOnUse" color-interpolation-filters="sRGB">
<feTurbulence type="fractalNoise" baseFrequency="0.45 0.3" numOctaves="2" seed="5" result="n"/>
<feColorMatrix in="n" type="matrix" values="1 0 0 0 0  1 0 0 0 0  1 0 0 0 0  0 0 0 0 1" result="n0"/>
<feComponentTransfer in="n0" result="n1"><feFuncR type="gamma" amplitude="1" exponent="2" offset="0"/><feFuncG type="gamma" amplitude="1" exponent="2" offset="0"/></feComponentTransfer>
<feColorMatrix in="n1" type="matrix" values="1 0 0 0 0  0 0.4 0 0 0.16  0 0 0 0 0  0 0 0 0 1" result="n2"/>
<feComposite in="SourceGraphic" in2="n2" operator="arithmetic" k1="0.9" k2="0.76" k3="0.02" k4="-0.01" result="s"/>
<feColorMatrix in="s" type="matrix" values="1 1 0 0 0  1 1 0 0 0  1 1 0 0 0  0 0 0 0 1" result="s2"/>
<feComponentTransfer in="s2">
<feFuncR type="table" tableValues="0.05 0.04 0.03 0.02 0.5 1 1 1 0.5"/>
<feFuncG type="table" tableValues="0.05 0.06 0.5 1 1 1 0.5 0.02 0"/>
<feFuncB type="table" tableValues="0.5 1 1 1 0.5 0 0 0 0"/>
</feComponentTransfer>
<feGaussianBlur stdDeviation="0.5"/>
</filter>
<g filter="url(#fb)" clip-path="url(#cb)">
<rect x="319" y="79" width="174" height="172.6" fill="url(#gb)"/>
<rect x="323.2" y="79" width="1.1" height="173" fill="rgb(31,0,0)" fill-opacity="0.7"/>
<polyline points="395,91.97 397,91.05 399,91.94 401,89.83 403,91.04 405,92.61 407,91.29 409,91.86 411,90.82 413,92.45 415,92.12 417,92.32 419,91.25 421,91.84 423,90.87 425,91.79 427,90.1 429,91.86 431,91.94 433,91.26 435,92.46 437,91.43 439,92.75 441,91.18 443,90.97 445,91.41 447,93.88 449,90.37 451,91.25 453,91.25 455,92.03 457,90.43 459,92.89 461,90.19 463,92.63 465,91.33 467,90.83 469,92.04 471,90.32 473,91.46 475,90.58 477,90.57 479,90.57 481,91.41 483,92.71 485,91.22 487,92.48 489,91.05 491,92.02 493,92.01" fill="none" stroke="rgb(33,0,0)" stroke-width="3" stroke-dasharray="1.6 1.4" style="mix-blend-mode:lighten"/>
<polyline points="395,91.97 397,91.05 399,91.94 401,89.83 403,91.04 405,92.61 407,91.29 409,91.86 411,90.82 413,92.45 415,92.12 417,92.32 419,91.25 421,91.84 423,90.87 425,91.79 427,90.1 429,91.86 431,91.94 433,91.26 435,92.46 437,91.43 439,92.75 441,91.18 443,90.97 445,91.41 447,93.88 449,90.37 451,91.25 453,91.25 455,92.03 457,90.43 459,92.89 461,90.19 463,92.63 465,91.33 467,90.83 469,92.04 471,90.32 473,91.46 475,90.58 477,90.57 479,90.57 481,91.41 483,92.71 485,91.22 487,92.48 489,91.05 491,92.02 493,92.01" fill="none" stroke="rgb(41,0,0)" stroke-width="1.5" stroke-dasharray="1.6 1.4" style="mix-blend-mode:lighten"/>
<polyline points="340,143.36 342,144.03 344,143.74 346,143.74 348,142.29 350,143.65 352,144.73 354,142.14 356,143.4 358,143.44 360,143.59 362,143.72 364,143.92 366,143.05 368,143.37 370,142.74 372,142.32 374,142.81 376,143.35 378,143.27 380,143.07 382,143.01 384,144.05 386,143.42 388,143.58 390,145.08 392,143.25 394,143.65 396,143.95 398,142 400,143.08 402,143.52 404,143.93 406,143.02 408,143.51 410,143.71 412,143.88 414,143.15 416,143.98 418,143.96 420,142.77 422,141.23 424,143.73 426,144.44 428,143.33 430,144.88 432,142.44 434,143.58 436,143.95 438,142.76 440,143.41 442,143.52 444,144.04 446,144.43 448,143.56 450,142.58 452,144.61 454,143.85 456,144.3 458,142.38 460,143.5 462,142.47 464,143.11 466,144.04 468,143.87 470,144.44 472,142.82 474,144.58 476,143.56 478,144.04 480,143.99 482,143.79 484,143.73 486,142.21 488,143.66 490,143.41 492,143.14" fill="none" stroke="rgb(31,0,0)" stroke-width="3" stroke-dasharray="1.6 1.4" style="mix-blend-mode:lighten"/>
<polyline points="340,143.36 342,144.03 344,143.74 346,143.74 348,142.29 350,143.65 352,144.73 354,142.14 356,143.4 358,143.44 360,143.59 362,143.72 364,143.92 366,143.05 368,143.37 370,142.74 372,142.32 374,142.81 376,143.35 378,143.27 380,143.07 382,143.01 384,144.05 386,143.42 388,143.58 390,145.08 392,143.25 394,143.65 396,143.95 398,142 400,143.08 402,143.52 404,143.93 406,143.02 408,143.51 410,143.71 412,143.88 414,143.15 416,143.98 418,143.96 420,142.77 422,141.23 424,143.73 426,144.44 428,143.33 430,144.88 432,142.44 434,143.58 436,143.95 438,142.76 440,143.41 442,143.52 444,144.04 446,144.43 448,143.56 450,142.58 452,144.61 454,143.85 456,144.3 458,142.38 460,143.5 462,142.47 464,143.11 466,144.04 468,143.87 470,144.44 472,142.82 474,144.58 476,143.56 478,144.04 480,143.99 482,143.79 484,143.73 486,142.21 488,143.66 490,143.41 492,143.14" fill="none" stroke="rgb(38,0,0)" stroke-width="1.5" stroke-dasharray="1.6 1.4" style="mix-blend-mode:lighten"/>
<polyline points="330,199.17 332,199.03 334,201.35 336,199.75 338,199.45 340,200.37 342,199.34 344,199.22 346,200.15 348,199.84 350,200.02 352,200.25 354,199.46 356,199.59 358,200.13 360,199.76 362,199.89 364,200.47 366,200.09 368,200.77 370,199.27 372,199.95 374,199.7 376,198.91 378,200.34 380,199.97 382,199.24 384,200.61 386,200.32 388,201.39 390,199.53 392,199.51 394,199.57 396,199.26 398,199.45 400,198.67 402,200.32 404,199.71 406,199.88 408,199.88 410,198.92 412,200.69 414,200.51 416,201 418,199.86 420,199.63 422,199.29 424,198.17 426,200.93 428,199.85 430,200.77 432,200.7 434,200.47 436,199.44 438,199.08 440,200.54 442,199.92 444,200.17 446,200.64 448,199.21 450,201.33 452,200.2 454,200.76 456,200.72 458,200 460,199.3 462,200.19 464,199.73 466,200.55 468,200.06 470,199.9 472,201.16 474,200.51 476,199.88 478,199.27 480,199.21 482,200.1 484,199.97 486,200.75 488,199.42 490,200.74 492,199.52" fill="none" stroke="rgb(31,0,0)" stroke-width="2.2" stroke-dasharray="1.6 1.4" style="mix-blend-mode:lighten"/>
<polyline points="330,199.17 332,199.03 334,201.35 336,199.75 338,199.45 340,200.37 342,199.34 344,199.22 346,200.15 348,199.84 350,200.02 352,200.25 354,199.46 356,199.59 358,200.13 360,199.76 362,199.89 364,200.47 366,200.09 368,200.77 370,199.27 372,199.95 374,199.7 376,198.91 378,200.34 380,199.97 382,199.24 384,200.61 386,200.32 388,201.39 390,199.53 392,199.51 394,199.57 396,199.26 398,199.45 400,198.67 402,200.32 404,199.71 406,199.88 408,199.88 410,198.92 412,200.69 414,200.51 416,201 418,199.86 420,199.63 422,199.29 424,198.17 426,200.93 428,199.85 430,200.77 432,200.7 434,200.47 436,199.44 438,199.08 440,200.54 442,199.92 444,200.17 446,200.64 448,199.21 450,201.33 452,200.2 454,200.76 456,200.72 458,200 460,199.3 462,200.19 464,199.73 466,200.55 468,200.06 470,199.9 472,201.16 474,200.51 476,199.88 478,199.27 480,199.21 482,200.1 484,199.97 486,200.75 488,199.42 490,200.74 492,199.52" fill="none" stroke="rgb(38,0,0)" stroke-width="1.1" stroke-dasharray="1.6 1.4" style="mix-blend-mode:lighten"/>
<polyline points="340,177.8 342,179.04 344,177.54 346,177.79 348,177.06 350,176.74 352,177.26 354,177.75 356,176.87 358,177.25 360,177.57 362,177.33 364,177.82 366,178.81 368,176.98 370,177.14 372,178.09 374,175.9 376,176.54 378,177.12 380,177.18 382,178.1 384,178.05 386,177.19 388,177.07 390,176.76 392,177.06 394,177.8 396,178.54 398,177.5 400,178.07 402,177.43 404,176.36 406,176.55 408,177.17 410,176.6 412,177.76 414,176.22 416,176.63 418,176.05 420,178.11 422,176.34 424,177.18 426,175.67 428,177.2 430,176.08 432,176.3 434,177.3 436,176.42 438,176.94 440,176.69 442,176.22 444,177.08 446,176.67 448,177.27 450,177.21 452,176.39 454,176.73 456,177.22 458,177.93 460,175.95 462,177.29 464,177.63 466,176.9 468,177.44 470,177.47 472,176.15 474,177.9 476,176.42 478,176.39 480,178.06 482,177.73 484,177.58 486,176.72 488,176.97 490,176.8 492,177.83" fill="none" stroke="rgb(18,0,0)" stroke-width="2" stroke-dasharray="1.6 1.4" style="mix-blend-mode:lighten"/>
<polyline points="340,177.8 342,179.04 344,177.54 346,177.79 348,177.06 350,176.74 352,177.26 354,177.75 356,176.87 358,177.25 360,177.57 362,177.33 364,177.82 366,178.81 368,176.98 370,177.14 372,178.09 374,175.9 376,176.54 378,177.12 380,177.18 382,178.1 384,178.05 386,177.19 388,177.07 390,176.76 392,177.06 394,177.8 396,178.54 398,177.5 400,178.07 402,177.43 404,176.36 406,176.55 408,177.17 410,176.6 412,177.76 414,176.22 416,176.63 418,176.05 420,178.11 422,176.34 424,177.18 426,175.67 428,177.2 430,176.08 432,176.3 434,177.3 436,176.42 438,176.94 440,176.69 442,176.22 444,177.08 446,176.67 448,177.27 450,177.21 452,176.39 454,176.73 456,177.22 458,177.93 460,175.95 462,177.29 464,177.63 466,176.9 468,177.44 470,177.47 472,176.15 474,177.9 476,176.42 478,176.39 480,178.06 482,177.73 484,177.58 486,176.72 488,176.97 490,176.8 492,177.83" fill="none" stroke="rgb(23,0,0)" stroke-width="1" stroke-dasharray="1.6 1.4" style="mix-blend-mode:lighten"/>
<rect x="319" y="79" width="3.9" height="172.6" fill="rgb(7,0,0)"/>
<polyline points="324,80.26 325,80.83 326,81.62 327,81.84 328,82.38 329,82.13 330,82.53 331,82.42 332,82.56 333,82.34 334,82.45 335,82.37 336,82.31 337,82.42 338,82.25 339,82.36 340,82.48 341,82.41 342,82.35 343,82.66 344,82.41 345,82.33 346,82.42 347,82.34 348,82.35 349,82.36 350,82.64 351,82.4 352,82.42 353,82.48 354,82.64 355,82.37 356,82.33 357,82.7 358,82.22 359,82.36 360,82.48 361,82.67 362,82.29 363,82.11 364,82.48 365,82.34 366,82.35 367,82.46 368,82.43 369,82.43 370,82.35 371,82.55 372,82.58 373,82.4 374,82.35 375,82.49 376,82.46 377,82.28 378,82.34 379,82.53 380,82.39 381,82.36 382,82.43 383,82.4 384,82.4 385,82.17 386,82.61 387,82.42 388,82.29 389,82.52 390,82.44 391,82.4 392,82.53 393,82.67 394,82.47 395,82.59 396,82.66 397,82.28 398,82.34 399,82.49 400,82.2 401,82.37 402,82.56 403,82.53 404,82.47 405,82.17 406,82.68 407,82.47 408,82.49 409,82.46 410,82.19" fill="none" stroke="rgb(0,33,0)" stroke-opacity="0.8" stroke-width="3.4" stroke-linejoin="round" style="mix-blend-mode:lighten"/>
<polyline points="324,80.26 325,80.83 326,81.62 327,81.84 328,82.38 329,82.13 330,82.53 331,82.42 332,82.56 333,82.34 334,82.45 335,82.37 336,82.31 337,82.42 338,82.25 339,82.36 340,82.48 341,82.41 342,82.35 343,82.66 344,82.41 345,82.33 346,82.42 347,82.34 348,82.35 349,82.36 350,82.64 351,82.4 352,82.42 353,82.48 354,82.64 355,82.37 356,82.33 357,82.7 358,82.22 359,82.36 360,82.48 361,82.67 362,82.29 363,82.11 364,82.48 365,82.34 366,82.35 367,82.46 368,82.43 369,82.43 370,82.35 371,82.55 372,82.58 373,82.4 374,82.35 375,82.49 376,82.46 377,82.28 378,82.34 379,82.53 380,82.39 381,82.36 382,82.43 383,82.4 384,82.4 385,82.17 386,82.61 387,82.42 388,82.29 389,82.52 390,82.44 391,82.4 392,82.53 393,82.67 394,82.47 395,82.59 396,82.66 397,82.28 398,82.34 399,82.49 400,82.2 401,82.37 402,82.56 403,82.53 404,82.47 405,82.17 406,82.68 407,82.47 408,82.49 409,82.46 410,82.19" fill="none" stroke="rgb(0,92,0)" stroke-opacity="1" stroke-width="2.4" stroke-linejoin="round" style="mix-blend-mode:lighten"/>
<polyline points="324,80.26 325,80.83 326,81.62 327,81.84 328,82.38 329,82.13 330,82.53 331,82.42 332,82.56 333,82.34 334,82.45 335,82.37 336,82.31 337,82.42 338,82.25 339,82.36 340,82.48 341,82.41 342,82.35 343,82.66 344,82.41 345,82.33 346,82.42 347,82.34 348,82.35 349,82.36 350,82.64 351,82.4 352,82.42 353,82.48 354,82.64 355,82.37 356,82.33 357,82.7 358,82.22 359,82.36 360,82.48 361,82.67 362,82.29 363,82.11 364,82.48 365,82.34 366,82.35 367,82.46 368,82.43 369,82.43 370,82.35 371,82.55 372,82.58 373,82.4 374,82.35 375,82.49 376,82.46 377,82.28 378,82.34 379,82.53 380,82.39 381,82.36 382,82.43 383,82.4 384,82.4 385,82.17 386,82.61 387,82.42 388,82.29 389,82.52 390,82.44 391,82.4 392,82.53 393,82.67 394,82.47 395,82.59 396,82.66 397,82.28 398,82.34 399,82.49 400,82.2 401,82.37 402,82.56 403,82.53 404,82.47 405,82.17 406,82.68 407,82.47 408,82.49 409,82.46 410,82.19" fill="none" stroke="rgb(0,120,0)" stroke-opacity="1" stroke-width="1.5" stroke-linejoin="round" style="mix-blend-mode:lighten"/>
<polyline points="410,82.13 411,82.14 412,82.5 413,82.15 414,82.21 415,82.19 416,82.27 417,82.25 418,82.21 419,82.01 420,81.77 421,82.15 422,82.14 423,82.24 424,82.07 425,81.99 426,82.1 427,81.85 428,81.89 429,81.88 430,82.02 431,82.22 432,82.05 433,82.08 434,81.95 435,81.94 436,81.84 437,81.84 438,81.57 439,81.7 440,81.68 441,81.91 442,81.88 443,81.92 444,81.95 445,81.72 446,81.86 447,81.96 448,81.7 449,81.82 450,81.65 451,81.46 452,81.66 453,81.53 454,81.62 455,81.54 456,81.62 457,81.31 458,81.8 459,81.7 460,81.47 461,81.39 462,81.49 463,81.55 464,81.51 465,81.49 466,81.19 467,81.27 468,81.55 469,81.4 470,81.18 471,81.24 472,81.16 473,81.19 474,81.44 475,81.26 476,81.4 477,81.27 478,81.05 479,81.14 480,81.48 481,81.09 482,81.04 483,81.31 484,81.15 485,81.12 486,81.29 487,80.88 488,81.13 489,80.93 490,80.88 491,80.93 492,81.16 493,80.98" fill="none" stroke="rgb(0,31,0)" stroke-opacity="0.8" stroke-width="3.2" stroke-linejoin="round" style="mix-blend-mode:lighten"/>
<polyline points="410,82.13 411,82.14 412,82.5 413,82.15 414,82.21 415,82.19 416,82.27 417,82.25 418,82.21 419,82.01 420,81.77 421,82.15 422,82.14 423,82.24 424,82.07 425,81.99 426,82.1 427,81.85 428,81.89 429,81.88 430,82.02 431,82.22 432,82.05 433,82.08 434,81.95 435,81.94 436,81.84 437,81.84 438,81.57 439,81.7 440,81.68 441,81.91 442,81.88 443,81.92 444,81.95 445,81.72 446,81.86 447,81.96 448,81.7 449,81.82 450,81.65 451,81.46 452,81.66 453,81.53 454,81.62 455,81.54 456,81.62 457,81.31 458,81.8 459,81.7 460,81.47 461,81.39 462,81.49 463,81.55 464,81.51 465,81.49 466,81.19 467,81.27 468,81.55 469,81.4 470,81.18 471,81.24 472,81.16 473,81.19 474,81.44 475,81.26 476,81.4 477,81.27 478,81.05 479,81.14 480,81.48 481,81.09 482,81.04 483,81.31 484,81.15 485,81.12 486,81.29 487,80.88 488,81.13 489,80.93 490,80.88 491,80.93 492,81.16 493,80.98" fill="none" stroke="rgb(0,107,0)" stroke-opacity="1" stroke-width="2.1" stroke-linejoin="round" style="mix-blend-mode:lighten"/>
<polyline points="410,82.13 411,82.14 412,82.5 413,82.15 414,82.21 415,82.19 416,82.27 417,82.25 418,82.21 419,82.01 420,81.77 421,82.15 422,82.14 423,82.24 424,82.07 425,81.99 426,82.1 427,81.85 428,81.89 429,81.88 430,82.02 431,82.22 432,82.05 433,82.08 434,81.95 435,81.94 436,81.84 437,81.84 438,81.57 439,81.7 440,81.68 441,81.91 442,81.88 443,81.92 444,81.95 445,81.72 446,81.86 447,81.96 448,81.7 449,81.82 450,81.65 451,81.46 452,81.66 453,81.53 454,81.62 455,81.54 456,81.62 457,81.31 458,81.8 459,81.7 460,81.47 461,81.39 462,81.49 463,81.55 464,81.51 465,81.49 466,81.19 467,81.27 468,81.55 469,81.4 470,81.18 471,81.24 472,81.16 473,81.19 474,81.44 475,81.26 476,81.4 477,81.27 478,81.05 479,81.14 480,81.48 481,81.09 482,81.04 483,81.31 484,81.15 485,81.12 486,81.29 487,80.88 488,81.13 489,80.93 490,80.88 491,80.93 492,81.16 493,80.98" fill="none" stroke="rgb(0,163,0)" stroke-opacity="1" stroke-width="1.4" stroke-linejoin="round" style="mix-blend-mode:lighten"/>
<polyline points="323.6,188.52 324.6,188.63 325.6,189.03 326.6,188.96 327.6,188.63 328.6,189.17 329.6,188.74 330.6,188.62 331.6,188.78 332.6,188.94 333.6,189.05 334.6,188.96 335.6,188.73 336.6,188.71 337.6,188.58 338.6,188.79 339.6,188.71 340.6,188.84 341.6,188.61 342.6,188.72 343.6,188.66 344.6,188.62 345.6,188.62 346.6,188.64 347.6,188.62 348.6,188.89 349.6,188.82 350.6,188.6 351.6,188.88 352.6,188.84 353.6,189.02 354.6,188.77 355.6,188.77 356.6,188.69 357.6,188.82 358.6,188.88 359.6,188.83 360.6,188.76 361.6,188.89 362.6,188.81 363.6,188.84 364.6,188.66 365.6,188.83 366.6,188.65 367.6,188.67 368.6,188.82 369.6,189.12 370.6,188.95 371.6,188.8 372.6,188.77 373.6,188.95 374.6,189.01 375.6,188.99 376.6,188.77 377.6,188.83 378.6,188.75 379.6,188.76 380.6,188.67 381.6,188.76 382.6,188.47 383.6,188.62 384.6,188.87 385.6,188.66 386.6,188.88 387.6,188.6 388.6,188.74 389.6,188.86 390.6,188.64 391.6,188.69 392.6,189.18 393.6,188.7 394.6,188.69 395.6,188.71 396.6,188.81 397.6,188.8 398.6,188.95 399.6,188.92 400.6,188.74 401.6,188.75 402.6,188.58 403.6,188.57 404.6,188.69 405.6,188.91 406.6,188.82 407.6,188.92 408.6,188.94 409.6,188.77 410.6,189.12 411.6,188.72 412.6,188.7 413.6,188.73 414.6,188.97 415.6,188.78 416.6,188.69 417.6,188.87 418.6,188.97 419.6,188.78 420.6,188.76 421.6,188.97 422.6,188.95 423.6,188.94 424.6,188.68 425.6,188.84 426.6,188.86 427.6,188.52 428.6,188.98 429.6,188.82 430.6,188.75 431.6,189.15 432.6,188.82 433.6,188.69 434.6,188.79 435.6,188.89 436.6,188.92 437.6,188.79 438.6,188.67 439.6,188.69 440.6,188.67 441.6,188.64 442.6,188.8 443.6,188.72 444.6,188.81 445.6,188.67 446.6,188.67 447.6,188.77 448.6,188.75 449.6,188.98 450.6,188.66 451.6,188.83 452.6,188.79 453.6,188.6 454.6,188.91 455.6,188.83 456.6,188.48 457.6,188.89 458.6,188.94 459.6,188.68 460.6,189.06 461.6,188.82 462.6,188.62 463.6,188.89 464.6,188.74 465.6,188.6 466.6,188.47 467.6,188.84 468.6,188.69 469.6,188.9 470.6,188.86 471.6,188.72 472.6,188.72 473.6,189.07 474.6,189.06 475.6,188.92 476.6,188.75 477.6,188.65 478.6,188.74 479.6,189.05 480.6,188.87 481.6,188.76 482.6,188.61 483.6,188.83 484.6,188.67 485.6,188.8 486.6,188.91 487.6,188.96 488.6,188.82 489.6,188.75 490.6,188.83 491.6,189.08 492.6,188.86" fill="none" stroke="rgb(0,26,0)" stroke-opacity="0.7" stroke-width="4.0" stroke-linejoin="round" style="mix-blend-mode:lighten"/>
<polyline points="323.6,188.52 324.6,188.63 325.6,189.03 326.6,188.96 327.6,188.63 328.6,189.17 329.6,188.74 330.6,188.62 331.6,188.78 332.6,188.94 333.6,189.05 334.6,188.96 335.6,188.73 336.6,188.71 337.6,188.58 338.6,188.79 339.6,188.71 340.6,188.84 341.6,188.61 342.6,188.72 343.6,188.66 344.6,188.62 345.6,188.62 346.6,188.64 347.6,188.62 348.6,188.89 349.6,188.82 350.6,188.6 351.6,188.88 352.6,188.84 353.6,189.02 354.6,188.77 355.6,188.77 356.6,188.69 357.6,188.82 358.6,188.88 359.6,188.83 360.6,188.76 361.6,188.89 362.6,188.81 363.6,188.84 364.6,188.66 365.6,188.83 366.6,188.65 367.6,188.67 368.6,188.82 369.6,189.12 370.6,188.95 371.6,188.8 372.6,188.77 373.6,188.95 374.6,189.01 375.6,188.99 376.6,188.77 377.6,188.83 378.6,188.75 379.6,188.76 380.6,188.67 381.6,188.76 382.6,188.47 383.6,188.62 384.6,188.87 385.6,188.66 386.6,188.88 387.6,188.6 388.6,188.74 389.6,188.86 390.6,188.64 391.6,188.69 392.6,189.18 393.6,188.7 394.6,188.69 395.6,188.71 396.6,188.81 397.6,188.8 398.6,188.95 399.6,188.92 400.6,188.74 401.6,188.75 402.6,188.58 403.6,188.57 404.6,188.69 405.6,188.91 406.6,188.82 407.6,188.92 408.6,188.94 409.6,188.77 410.6,189.12 411.6,188.72 412.6,188.7 413.6,188.73 414.6,188.97 415.6,188.78 416.6,188.69 417.6,188.87 418.6,188.97 419.6,188.78 420.6,188.76 421.6,188.97 422.6,188.95 423.6,188.94 424.6,188.68 425.6,188.84 426.6,188.86 427.6,188.52 428.6,188.98 429.6,188.82 430.6,188.75 431.6,189.15 432.6,188.82 433.6,188.69 434.6,188.79 435.6,188.89 436.6,188.92 437.6,188.79 438.6,188.67 439.6,188.69 440.6,188.67 441.6,188.64 442.6,188.8 443.6,188.72 444.6,188.81 445.6,188.67 446.6,188.67 447.6,188.77 448.6,188.75 449.6,188.98 450.6,188.66 451.6,188.83 452.6,188.79 453.6,188.6 454.6,188.91 455.6,188.83 456.6,188.48 457.6,188.89 458.6,188.94 459.6,188.68 460.6,189.06 461.6,188.82 462.6,188.62 463.6,188.89 464.6,188.74 465.6,188.6 466.6,188.47 467.6,188.84 468.6,188.69 469.6,188.9 470.6,188.86 471.6,188.72 472.6,188.72 473.6,189.07 474.6,189.06 475.6,188.92 476.6,188.75 477.6,188.65 478.6,188.74 479.6,189.05 480.6,188.87 481.6,188.76 482.6,188.61 483.6,188.83 484.6,188.67 485.6,188.8 486.6,188.91 487.6,188.96 488.6,188.82 489.6,188.75 490.6,188.83 491.6,189.08 492.6,188.86" fill="none" stroke="rgb(0,76,0)" stroke-opacity="1" stroke-width="2.9" stroke-linejoin="round" style="mix-blend-mode:lighten"/>
<polyline points="323.6,188.52 324.6,188.63 325.6,189.03 326.6,188.96 327.6,188.63 328.6,189.17 329.6,188.74 330.6,188.62 331.6,188.78 332.6,188.94 333.6,189.05 334.6,188.96 335.6,188.73 336.6,188.71 337.6,188.58 338.6,188.79 339.6,188.71 340.6,188.84 341.6,188.61 342.6,188.72 343.6,188.66 344.6,188.62 345.6,188.62 346.6,188.64 347.6,188.62 348.6,188.89 349.6,188.82 350.6,188.6 351.6,188.88 352.6,188.84 353.6,189.02 354.6,188.77 355.6,188.77 356.6,188.69 357.6,188.82 358.6,188.88 359.6,188.83 360.6,188.76 361.6,188.89 362.6,188.81 363.6,188.84 364.6,188.66 365.6,188.83 366.6,188.65 367.6,188.67 368.6,188.82 369.6,189.12 370.6,188.95 371.6,188.8 372.6,188.77 373.6,188.95 374.6,189.01 375.6,188.99 376.6,188.77 377.6,188.83 378.6,188.75 379.6,188.76 380.6,188.67 381.6,188.76 382.6,188.47 383.6,188.62 384.6,188.87 385.6,188.66 386.6,188.88 387.6,188.6 388.6,188.74 389.6,188.86 390.6,188.64 391.6,188.69 392.6,189.18 393.6,188.7 394.6,188.69 395.6,188.71 396.6,188.81 397.6,188.8 398.6,188.95 399.6,188.92 400.6,188.74 401.6,188.75 402.6,188.58 403.6,188.57 404.6,188.69 405.6,188.91 406.6,188.82 407.6,188.92 408.6,188.94 409.6,188.77 410.6,189.12 411.6,188.72 412.6,188.7 413.6,188.73 414.6,188.97 415.6,188.78 416.6,188.69 417.6,188.87 418.6,188.97 419.6,188.78 420.6,188.76 421.6,188.97 422.6,188.95 423.6,188.94 424.6,188.68 425.6,188.84 426.6,188.86 427.6,188.52 428.6,188.98 429.6,188.82 430.6,188.75 431.6,189.15 432.6,188.82 433.6,188.69 434.6,188.79 435.6,188.89 436.6,188.92 437.6,188.79 438.6,188.67 439.6,188.69 440.6,188.67 441.6,188.64 442.6,188.8 443.6,188.72 444.6,188.81 445.6,188.67 446.6,188.67 447.6,188.77 448.6,188.75 449.6,188.98 450.6,188.66 451.6,188.83 452.6,188.79 453.6,188.6 454.6,188.91 455.6,188.83 456.6,188.48 457.6,188.89 458.6,188.94 459.6,188.68 460.6,189.06 461.6,188.82 462.6,188.62 463.6,188.89 464.6,188.74 465.6,188.6 466.6,188.47 467.6,188.84 468.6,188.69 469.6,188.9 470.6,188.86 471.6,188.72 472.6,188.72 473.6,189.07 474.6,189.06 475.6,188.92 476.6,188.75 477.6,188.65 478.6,188.74 479.6,189.05 480.6,188.87 481.6,188.76 482.6,188.61 483.6,188.83 484.6,188.67 485.6,188.8 486.6,188.91 487.6,188.96 488.6,188.82 489.6,188.75 490.6,188.83 491.6,189.08 492.6,188.86" fill="none" stroke="rgb(0,153,0)" stroke-opacity="1" stroke-width="2.1" stroke-linejoin="round" style="mix-blend-mode:lighten"/>
<polyline points="323.6,188.52 324.6,188.63 325.6,189.03 326.6,188.96 327.6,188.63 328.6,189.17 329.6,188.74 330.6,188.62 331.6,188.78 332.6,188.94 333.6,189.05 334.6,188.96 335.6,188.73 336.6,188.71 337.6,188.58 338.6,188.79 339.6,188.71 340.6,188.84 341.6,188.61 342.6,188.72 343.6,188.66 344.6,188.62 345.6,188.62 346.6,188.64 347.6,188.62 348.6,188.89 349.6,188.82 350.6,188.6 351.6,188.88 352.6,188.84 353.6,189.02 354.6,188.77 355.6,188.77 356.6,188.69 357.6,188.82 358.6,188.88 359.6,188.83 360.6,188.76 361.6,188.89 362.6,188.81 363.6,188.84 364.6,188.66 365.6,188.83 366.6,188.65 367.6,188.67 368.6,188.82 369.6,189.12 370.6,188.95 371.6,188.8 372.6,188.77 373.6,188.95 374.6,189.01 375.6,188.99 376.6,188.77 377.6,188.83 378.6,188.75 379.6,188.76 380.6,188.67 381.6,188.76 382.6,188.47 383.6,188.62 384.6,188.87 385.6,188.66 386.6,188.88 387.6,188.6 388.6,188.74 389.6,188.86 390.6,188.64 391.6,188.69 392.6,189.18 393.6,188.7 394.6,188.69 395.6,188.71 396.6,188.81 397.6,188.8 398.6,188.95 399.6,188.92 400.6,188.74 401.6,188.75 402.6,188.58 403.6,188.57 404.6,188.69 405.6,188.91 406.6,188.82 407.6,188.92 408.6,188.94 409.6,188.77 410.6,189.12 411.6,188.72 412.6,188.7 413.6,188.73 414.6,188.97 415.6,188.78 416.6,188.69 417.6,188.87 418.6,188.97 419.6,188.78 420.6,188.76 421.6,188.97 422.6,188.95 423.6,188.94 424.6,188.68 425.6,188.84 426.6,188.86 427.6,188.52 428.6,188.98 429.6,188.82 430.6,188.75 431.6,189.15 432.6,188.82 433.6,188.69 434.6,188.79 435.6,188.89 436.6,188.92 437.6,188.79 438.6,188.67 439.6,188.69 440.6,188.67 441.6,188.64 442.6,188.8 443.6,188.72 444.6,188.81 445.6,188.67 446.6,188.67 447.6,188.77 448.6,188.75 449.6,188.98 450.6,188.66 451.6,188.83 452.6,188.79 453.6,188.6 454.6,188.91 455.6,188.83 456.6,188.48 457.6,188.89 458.6,188.94 459.6,188.68 460.6,189.06 461.6,188.82 462.6,188.62 463.6,188.89 464.6,188.74 465.6,188.6 466.6,188.47 467.6,188.84 468.6,188.69 469.6,188.9 470.6,188.86 471.6,188.72 472.6,188.72 473.6,189.07 474.6,189.06 475.6,188.92 476.6,188.75 477.6,188.65 478.6,188.74 479.6,189.05 480.6,188.87 481.6,188.76 482.6,188.61 483.6,188.83 484.6,188.67 485.6,188.8 486.6,188.91 487.6,188.96 488.6,188.82 489.6,188.75 490.6,188.83 491.6,189.08 492.6,188.86" fill="none" stroke="rgb(0,204,0)" stroke-opacity="1" stroke-width="1.7" stroke-linejoin="round" style="mix-blend-mode:lighten"/>
</g>
<rect x="406.5" y="79" width="2" height="172.6" fill="rgba(120,0,110,0.1)" stroke="#900030" stroke-width="0.5"/>
<line x1="471.5" y1="122.5" x2="474.5" y2="122.5" stroke="#000040" stroke-width="0.8"/>
<line x1="471.5" y1="165.5" x2="474.5" y2="165.5" stroke="#000040" stroke-width="0.8"/>
<line x1="471.5" y1="208.5" x2="474.5" y2="208.5" stroke="#000040" stroke-width="0.8"/>
<rect x="496.4" y="79.9" width="50" height="172" fill="#fff" stroke="#555" stroke-width="1.1"/>
<path d="M496.3 80.5L497.47 80.5L497.62 81L497.89 81.5L498 82L498.32 82.5L498.62 83L498.53 83.5L498.39 84L498.1 84.5L497.89 85L497.5 85.5L497.45 86L497.3 86.5L497.46 87L497.38 87.5L497.15 88L497.41 88.5L497.39 89L497.28 89.5L497.26 90L497.11 90.5L497.06 91L497.21 91.5L497.06 92L497.1 92.5L497.11 93L497.04 93.5L497.17 94L497.16 94.5L497.28 95L497.18 95.5L497.21 96L497.17 96.5L497.22 97L497.15 97.5L497.1 98L497.31 98.5L497.31 99L497.27 99.5L497.22 100L497.11 100.5L497.08 101L497.1 101.5L497.03 102L497.24 102.5L497.13 103L497.26 103.5L497.12 104L497.3 104.5L497.26 105L497.01 105.5L497.07 106L497.28 106.5L497.15 107L497.3 107.5L497.13 108L497.03 108.5L497.19 109L497.24 109.5L497.09 110L497.03 110.5L497.1 111L497.29 111.5L497.23 112L497.04 112.5L497.08 113L497.03 113.5L497.02 114L497.24 114.5L497.06 115L497.17 115.5L497.14 116L497.06 116.5L497.22 117L497.04 117.5L497.2 118L497.04 118.5L497.13 119L497.07 119.5L497.08 120L497.29 120.5L497.24 121L497.09 121.5L497.27 122L497.07 122.5L497.12 123L497.26 123.5L497.2 124L497.03 124.5L497.3 125L497.07 125.5L497.08 126L497.23 126.5L497.1 127L497.09 127.5L497.02 128L497.03 128.5L497.18 129L497.08 129.5L497.18 130L497.11 130.5L497.14 131L497.29 131.5L497.15 132L497.18 132.5L497.26 133L497.06 133.5L497.05 134L497.28 134.5L497.25 135L497.08 135.5L497.06 136L497.22 136.5L497.28 137L497.06 137.5L497.29 138L497.27 138.5L497.18 139L497.13 139.5L497.03 140L497.01 140.5L497.29 141L497.07 141.5L497.21 142L497.08 142.5L497.25 143L497.18 143.5L497.09 144L497.06 144.5L497.22 145L497.02 145.5L497.07 146L497.17 146.5L497.26 147L497.19 147.5L497.09 148L497.28 148.5L497.06 149L497.01 149.5L497.08 150L497.14 150.5L497.02 151L497.06 151.5L497.11 152L497.18 152.5L497.04 153L497.11 153.5L497.27 154L497.3 154.5L497.2 155L497.21 155.5L497.18 156L497.05 156.5L497.02 157L497.01 157.5L497.28 158L497.22 158.5L497.29 159L497.01 159.5L497.2 160L497.15 160.5L497.23 161L497.1 161.5L497.31 162L497.03 162.5L497.17 163L497.23 163.5L497.28 164L497.23 164.5L497.22 165L497.25 165.5L497.28 166L497.12 166.5L497.22 167L497.28 167.5L497.27 168L497.14 168.5L497.25 169L497.27 169.5L497.18 170L497.2 170.5L497.13 171L497.19 171.5L497.2 172L497.04 172.5L497.21 173L497.32 173.5L497.28 174L497.24 174.5L497.14 175L497.25 175.5L497.2 176L497.16 176.5L497.28 177L497.06 177.5L497.26 178L497.05 178.5L497.23 179L497.19 179.5L497.12 180L497.27 180.5L497.22 181L497.26 181.5L497.37 182L497.18 182.5L497.12 183L497.23 183.5L497.37 184L497.26 184.5L497.3 185L497.58 185.5L497.6 186L497.66 186.5L497.97 187L498.06 187.5L498.49 188L498.7 188.5L498.93 189L498.88 189.5L498.57 190L498.22 190.5L497.82 191L497.7 191.5L497.49 192L497.35 192.5L497.4 193L497.45 193.5L497.42 194L497.35 194.5L497.4 195L497.19 195.5L497.14 196L497.21 196.5L497.15 197L497.13 197.5L497.18 198L497.24 198.5L497.19 199L497.14 199.5L497.29 200L497.33 200.5L497.17 201L497.05 201.5L497.04 202L497.29 202.5L497.04 203L497.23 203.5L497.19 204L497.11 204.5L497.26 205L497.02 205.5L497.06 206L497.15 206.5L497.02 207L497.26 207.5L497.08 208L497.05 208.5L497.03 209L497.2 209.5L497.14 210L497.2 210.5L497.21 211L497.25 211.5L497.3 212L497.21 212.5L497.07 213L497.15 213.5L497.06 214L497.01 214.5L497.15 215L497.22 215.5L497.06 216L497.09 216.5L497.11 217L497.22 217.5L497.16 218L497.19 218.5L497.23 219L497.12 219.5L497.24 220L497.28 220.5L497.03 221L497.28 221.5L497.22 222L497.04 222.5L497.14 223L497.19 223.5L497.28 224L497.12 224.5L497.17 225L497.27 225.5L497.24 226L497.29 226.5L497.14 227L497.2 227.5L497.06 228L497.22 228.5L497.25 229L497.2 229.5L497.22 230L497.07 230.5L497.27 231L497.3 231.5L497.3 232L497.16 232.5L497.24 233L497.1 233.5L497.28 234L497.26 234.5L497.11 235L497.03 235.5L497.13 236L497.17 236.5L497.23 237L497.15 237.5L497.01 238L497.24 238.5L497.02 239L497.24 239.5L497.05 240L497.1 240.5L497.24 241L497.04 241.5L497.05 242L497.16 242.5L497.22 243L497.25 243.5L497.21 244L497.29 244.5L497.15 245L497.29 245.5L497.03 246L497.07 246.5L497.16 247L497.09 247.5L497.22 248L497.19 248.5L497.16 249L497.25 249.5L497.17 250L497.09 250.5L497.12 251L496.3 251.3Z" fill="#a00010"/>
<path d="M497 81.5L507.58 82.31L511.7 83.3L507.58 84.29L497 85.1Z" fill="#d80a18"/>
<path d="M497 188.1L511.76 188.5L517.5 189L511.76 189.5L497 189.9Z" fill="#d80a18"/>
<line x1="497.4" y1="122.5" x2="500.79999999999995" y2="122.5" stroke="#111" stroke-width="1"/>
<line x1="497.4" y1="165.5" x2="500.79999999999995" y2="165.5" stroke="#111" stroke-width="1"/>
<line x1="497.4" y1="208.5" x2="500.79999999999995" y2="208.5" stroke="#111" stroke-width="1"/>
<line x1="510" y1="189" x2="543" y2="189" stroke="rgba(225,30,45,0.8)" stroke-width="0.75"/>
<text x="312.5" y="84.8" font-size="13.5" text-anchor="end" >50</text>
<text x="312.5" y="127.7" font-size="13.5" text-anchor="end" >40</text>
<text x="312.5" y="170.6" font-size="13.5" text-anchor="end" >30</text>
<text x="312.5" y="213.4" font-size="13.5" text-anchor="end" >20</text>
<text x="312.5" y="256" font-size="13.5" text-anchor="end" >10</text>
<text x="319.8" y="266" font-size="13.5" text-anchor="middle" >0.4</text>
<text x="362.6" y="266" font-size="13.5" text-anchor="middle" >0.5</text>
<text x="405.8" y="266" font-size="13.5" text-anchor="middle" >0.6</text>
<text x="448.7" y="266" font-size="13.5" text-anchor="middle" >0.7</text>
<text x="491.6" y="266" font-size="13.5" text-anchor="middle" >0.8</text>
<text x="406.2" y="281.8" font-size="14.3" text-anchor="middle" >Time (s)</text>
<text transform="translate(285.8,165) rotate(-90)" font-size="14.3" text-anchor="middle">Frequency (kHz)</text>
<text x="413.2" y="299.8" font-size="11.3" text-anchor="middle">(<tspan font-weight="bold">b</tspan>)</text>
<text x="503.6" y="172" font-size="14" font-style="italic" style="fill:#2a2a2a;stroke:#2a2a2a">f<tspan font-size="9" dy="2.2" dx="1.2">DW</tspan><tspan font-style="normal" font-size="9" dx="2" style="fill:#a8a8a8;stroke:none">=</tspan></text>
<text x="542.2" y="185.4" font-size="12" text-anchor="end" >24.555</text>
</svg></body></html>
